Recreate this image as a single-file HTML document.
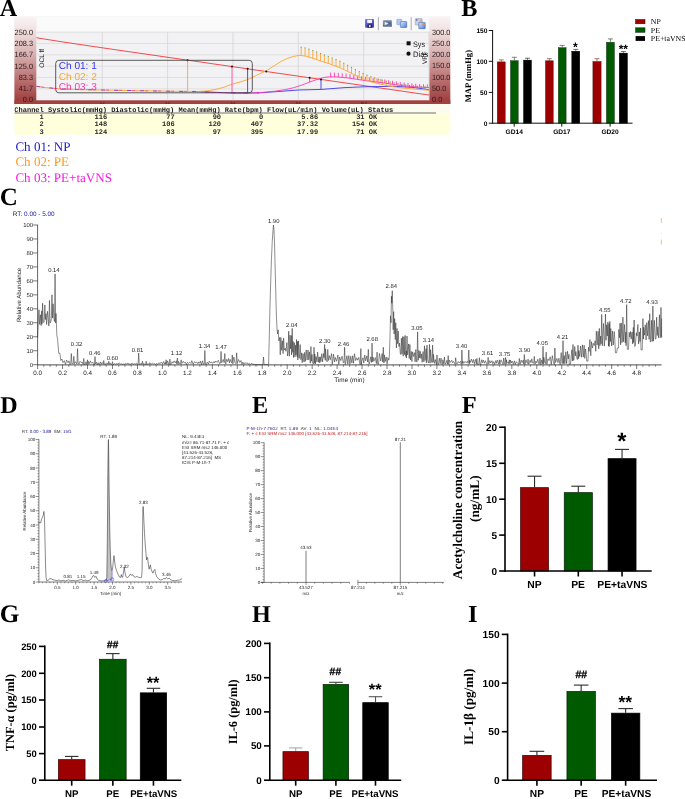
<!DOCTYPE html>
<html lang="en">
<head>
<meta charset="utf-8">
<title>Figure</title>
<style>
html,body{margin:0;padding:0;background:#fff;}
body{width:685px;height:799px;overflow:hidden;}
svg{display:block;}
text{font-family:"Liberation Sans","DejaVu Sans",sans-serif;text-rendering:geometricPrecision;}
.sb{font-family:"Liberation Sans","DejaVu Sans",sans-serif;font-weight:bold;}
.s{font-family:"Liberation Sans","DejaVu Sans",sans-serif;}
.sbi{font-family:"Liberation Sans","DejaVu Sans",sans-serif;font-weight:bold;font-style:italic;}
.rb{font-family:"Liberation Serif","DejaVu Serif",serif;font-weight:bold;}
.r{font-family:"Liberation Serif","DejaVu Serif",serif;}
.m{font-family:"Liberation Mono","DejaVu Sans Mono",monospace;font-weight:bold;}
</style>
</head>
<body>
<svg width="685" height="799" viewBox="0 0 685 799">
<rect x="0" y="0" width="685" height="799" fill="#ffffff"/>
<!-- panel letters -->
<text x="-0.2" y="15.9" font-size="24.2" class="rb">A</text>
<text x="461.3" y="15.9" font-size="24.3" class="rb">B</text>
<text x="-0.3" y="204.9" font-size="25" class="rb">C</text>
<text x="0.2" y="412.9" font-size="24.1" class="rb">D</text>
<text x="252.1" y="413" font-size="24.3" class="rb">E</text>
<text x="461.7" y="413" font-size="24.5" class="rb">F</text>
<text x="-0.3" y="622.3" font-size="25.2" class="rb">G</text>
<text x="252.1" y="621.9" font-size="24.2" class="rb">H</text>
<text x="468.1" y="621.9" font-size="24.5" class="rb">I</text>
<!-- panel G -->
<line x1="71.7" y1="759.3" x2="71.7" y2="756.4" stroke="#2c2c2c" stroke-width="1.1"/>
<line x1="64.95" y1="756.4" x2="78.45" y2="756.4" stroke="#2c2c2c" stroke-width="1.1"/>
<rect x="58.35" y="759.65" width="26.7" height="20.55" fill="#9c0000" stroke="#3a0000" stroke-width="0.7"/>
<line x1="71.7" y1="780.2" x2="71.7" y2="785.7" stroke="#000" stroke-width="1.6"/>
<line x1="112.85" y1="658.9" x2="112.85" y2="653.6" stroke="#2c2c2c" stroke-width="1.1"/>
<line x1="106.1" y1="653.6" x2="119.6" y2="653.6" stroke="#2c2c2c" stroke-width="1.1"/>
<rect x="99.55" y="659.25" width="26.6" height="120.95" fill="#005a00" stroke="#001e00" stroke-width="0.7"/>
<line x1="112.85" y1="780.2" x2="112.85" y2="785.7" stroke="#000" stroke-width="1.6"/>
<line x1="153.45" y1="692.5" x2="153.45" y2="688.3" stroke="#2c2c2c" stroke-width="1.1"/>
<line x1="146.7" y1="688.3" x2="160.2" y2="688.3" stroke="#2c2c2c" stroke-width="1.1"/>
<rect x="140.25" y="692.85" width="26.4" height="87.35" fill="#000000" stroke="#000000" stroke-width="0.7"/>
<line x1="153.45" y1="780.2" x2="153.45" y2="785.7" stroke="#000" stroke-width="1.6"/>
<line x1="44.8" y1="645.6" x2="44.8" y2="781" stroke="#000" stroke-width="1.6"/>
<line x1="44" y1="780.2" x2="181.3" y2="780.2" stroke="#000" stroke-width="1.6"/>
<line x1="39" y1="646.4" x2="44.8" y2="646.4" stroke="#000" stroke-width="1.6"/>
<text x="36.8" y="649.77" font-size="9.4" text-anchor="end" class="sb">250</text>
<line x1="39" y1="673.3" x2="44.8" y2="673.3" stroke="#000" stroke-width="1.6"/>
<text x="36.8" y="676.67" font-size="9.4" text-anchor="end" class="sb">200</text>
<line x1="39" y1="700" x2="44.8" y2="700" stroke="#000" stroke-width="1.6"/>
<text x="36.8" y="703.37" font-size="9.4" text-anchor="end" class="sb">150</text>
<line x1="39" y1="727" x2="44.8" y2="727" stroke="#000" stroke-width="1.6"/>
<text x="36.8" y="730.37" font-size="9.4" text-anchor="end" class="sb">100</text>
<line x1="39" y1="753.6" x2="44.8" y2="753.6" stroke="#000" stroke-width="1.6"/>
<text x="36.8" y="756.97" font-size="9.4" text-anchor="end" class="sb">50</text>
<line x1="39" y1="780.2" x2="44.8" y2="780.2" stroke="#000" stroke-width="1.6"/>
<text x="36.8" y="783.57" font-size="9.4" text-anchor="end" class="sb">0</text>
<text x="71.8" y="797" font-size="9.7" text-anchor="middle" class="sb">NP</text>
<text x="112.8" y="797" font-size="9.7" text-anchor="middle" class="sb">PE</text>
<text x="153.7" y="797" font-size="9.7" text-anchor="middle" class="sb">PE+taVNS</text>
<text x="112.4" y="647.5" font-size="10.3" text-anchor="middle" class="sbi" stroke="#000" stroke-width="0.25">##</text>
<text x="153" y="688.4" font-size="16.2" text-anchor="middle" class="sb">**</text>
<text x="13.8" y="712.6" font-size="12.4" text-anchor="middle" transform="rotate(-90 13.8 712.6)" class="rb">TNF-α (pg/ml)</text>
<!-- panel H -->
<line x1="295.7" y1="751.3" x2="295.7" y2="747.9" stroke="#a8a8a8" stroke-width="1.1"/>
<line x1="288.95" y1="747.9" x2="302.45" y2="747.9" stroke="#a8a8a8" stroke-width="1.1"/>
<rect x="282.95" y="751.65" width="25.5" height="28.55" fill="#9c0000" stroke="#3a0000" stroke-width="0.7"/>
<line x1="295.7" y1="780.2" x2="295.7" y2="785.7" stroke="#000" stroke-width="1.6"/>
<line x1="335.9" y1="684.1" x2="335.9" y2="682.3" stroke="#3a4a3a" stroke-width="1.1"/>
<line x1="329.15" y1="682.3" x2="342.65" y2="682.3" stroke="#3a4a3a" stroke-width="1.1"/>
<rect x="323.15" y="684.45" width="25.5" height="95.75" fill="#005a00" stroke="#001e00" stroke-width="0.7"/>
<line x1="335.9" y1="780.2" x2="335.9" y2="785.7" stroke="#000" stroke-width="1.6"/>
<line x1="375.5" y1="702.3" x2="375.5" y2="696.7" stroke="#555555" stroke-width="1.1"/>
<line x1="368.75" y1="696.7" x2="382.25" y2="696.7" stroke="#555555" stroke-width="1.1"/>
<rect x="362.75" y="702.65" width="25.5" height="77.55" fill="#000000" stroke="#000000" stroke-width="0.7"/>
<line x1="375.5" y1="780.2" x2="375.5" y2="785.7" stroke="#000" stroke-width="1.6"/>
<line x1="269.8" y1="642.6" x2="269.8" y2="781" stroke="#000" stroke-width="1.6"/>
<line x1="269" y1="780.2" x2="401.2" y2="780.2" stroke="#000" stroke-width="1.6"/>
<line x1="264" y1="643.4" x2="269.8" y2="643.4" stroke="#000" stroke-width="1.6"/>
<text x="261.8" y="646.91" font-size="9.8" text-anchor="end" class="sb">200</text>
<line x1="264" y1="677.7" x2="269.8" y2="677.7" stroke="#000" stroke-width="1.6"/>
<text x="261.8" y="681.21" font-size="9.8" text-anchor="end" class="sb">150</text>
<line x1="264" y1="711.9" x2="269.8" y2="711.9" stroke="#000" stroke-width="1.6"/>
<text x="261.8" y="715.41" font-size="9.8" text-anchor="end" class="sb">100</text>
<line x1="264" y1="745.9" x2="269.8" y2="745.9" stroke="#000" stroke-width="1.6"/>
<text x="261.8" y="749.41" font-size="9.8" text-anchor="end" class="sb">50</text>
<line x1="264" y1="780.2" x2="269.8" y2="780.2" stroke="#000" stroke-width="1.6"/>
<text x="261.8" y="783.71" font-size="9.8" text-anchor="end" class="sb">0</text>
<text x="295.8" y="797" font-size="9.7" text-anchor="middle" class="sb">NP</text>
<text x="335.7" y="797" font-size="9.7" text-anchor="middle" class="sb">PE</text>
<text x="375" y="797" font-size="9.7" text-anchor="middle" class="sb">PE+taVNS</text>
<text x="335.2" y="675.1" font-size="10.5" text-anchor="middle" class="sbi" stroke="#000" stroke-width="0.25">##</text>
<text x="375.2" y="694.5" font-size="16.4" text-anchor="middle" class="sb">**</text>
<text x="236.7" y="711.8" font-size="12.4" text-anchor="middle" transform="rotate(-90 236.7 711.8)" class="rb">IL-6 (pg/ml)</text>
<!-- panel I -->
<line x1="536.9" y1="755" x2="536.9" y2="751.3" stroke="#2c2c2c" stroke-width="1.1"/>
<line x1="529.6" y1="751.3" x2="544.2" y2="751.3" stroke="#2c2c2c" stroke-width="1.1"/>
<rect x="522.65" y="755.35" width="28.5" height="24.85" fill="#9c0000" stroke="#3a0000" stroke-width="0.7"/>
<line x1="536.9" y1="780.2" x2="536.9" y2="785.7" stroke="#000" stroke-width="1.6"/>
<line x1="581.15" y1="691.1" x2="581.15" y2="685.1" stroke="#2c2c2c" stroke-width="1.1"/>
<line x1="573.85" y1="685.1" x2="588.45" y2="685.1" stroke="#2c2c2c" stroke-width="1.1"/>
<rect x="566.95" y="691.45" width="28.4" height="88.75" fill="#005a00" stroke="#001e00" stroke-width="0.7"/>
<line x1="581.15" y1="780.2" x2="581.15" y2="785.7" stroke="#000" stroke-width="1.6"/>
<line x1="625.65" y1="712.8" x2="625.65" y2="708.6" stroke="#2c2c2c" stroke-width="1.1"/>
<line x1="618.35" y1="708.6" x2="632.95" y2="708.6" stroke="#2c2c2c" stroke-width="1.1"/>
<rect x="611.45" y="713.15" width="28.4" height="67.05" fill="#000000" stroke="#000000" stroke-width="0.7"/>
<line x1="625.65" y1="780.2" x2="625.65" y2="785.7" stroke="#000" stroke-width="1.6"/>
<line x1="507.6" y1="633.6" x2="507.6" y2="781" stroke="#000" stroke-width="1.6"/>
<line x1="506.8" y1="780.2" x2="657" y2="780.2" stroke="#000" stroke-width="1.6"/>
<line x1="501.8" y1="634.4" x2="507.6" y2="634.4" stroke="#000" stroke-width="1.6"/>
<text x="499.6" y="638.05" font-size="10.2" text-anchor="end" class="sb">150</text>
<line x1="501.8" y1="683.1" x2="507.6" y2="683.1" stroke="#000" stroke-width="1.6"/>
<text x="499.6" y="686.75" font-size="10.2" text-anchor="end" class="sb">100</text>
<line x1="501.8" y1="731.7" x2="507.6" y2="731.7" stroke="#000" stroke-width="1.6"/>
<text x="499.6" y="735.35" font-size="10.2" text-anchor="end" class="sb">50</text>
<line x1="501.8" y1="780.2" x2="507.6" y2="780.2" stroke="#000" stroke-width="1.6"/>
<text x="499.6" y="783.85" font-size="10.2" text-anchor="end" class="sb">0</text>
<text x="536.9" y="797.2" font-size="10.2" text-anchor="middle" class="sb">NP</text>
<text x="581" y="797.2" font-size="10.2" text-anchor="middle" class="sb">PE</text>
<text x="626.5" y="797.2" font-size="10.2" text-anchor="middle" class="sb">PE+taVNS</text>
<text x="581.1" y="678.4" font-size="10.7" text-anchor="middle" class="sbi" stroke="#000" stroke-width="0.25">##</text>
<text x="625.2" y="708.4" font-size="17.4" text-anchor="middle" class="sb">**</text>
<text x="472.9" y="706.8" font-size="13.2" text-anchor="middle" transform="rotate(-90 472.9 706.8)" class="rb">IL-1β (pg/ml)</text>
<!-- panel F -->
<line x1="534.55" y1="487.3" x2="534.55" y2="476.2" stroke="#2c2c2c" stroke-width="1.1"/>
<line x1="527.55" y1="476.2" x2="541.55" y2="476.2" stroke="#2c2c2c" stroke-width="1.1"/>
<rect x="520.55" y="487.65" width="28" height="83.35" fill="#9c0000" stroke="#3a0000" stroke-width="0.7"/>
<line x1="534.55" y1="571" x2="534.55" y2="576.5" stroke="#000" stroke-width="1.6"/>
<line x1="578.3" y1="492.3" x2="578.3" y2="486.2" stroke="#2c2c2c" stroke-width="1.1"/>
<line x1="571.3" y1="486.2" x2="585.3" y2="486.2" stroke="#2c2c2c" stroke-width="1.1"/>
<rect x="564.25" y="492.65" width="28.1" height="78.35" fill="#005a00" stroke="#001e00" stroke-width="0.7"/>
<line x1="578.3" y1="571" x2="578.3" y2="576.5" stroke="#000" stroke-width="1.6"/>
<line x1="622.05" y1="458.3" x2="622.05" y2="449.4" stroke="#2c2c2c" stroke-width="1.1"/>
<line x1="615.05" y1="449.4" x2="629.05" y2="449.4" stroke="#2c2c2c" stroke-width="1.1"/>
<rect x="608.05" y="458.65" width="28" height="112.35" fill="#000000" stroke="#000000" stroke-width="0.7"/>
<line x1="622.05" y1="571" x2="622.05" y2="576.5" stroke="#000" stroke-width="1.6"/>
<line x1="505" y1="426.4" x2="505" y2="571.8" stroke="#000" stroke-width="1.6"/>
<line x1="504.2" y1="571" x2="651.7" y2="571" stroke="#000" stroke-width="1.6"/>
<line x1="499.2" y1="427.2" x2="505" y2="427.2" stroke="#000" stroke-width="1.6"/>
<text x="497" y="430.78" font-size="10" text-anchor="end" class="sb">20</text>
<line x1="499.2" y1="463.3" x2="505" y2="463.3" stroke="#000" stroke-width="1.6"/>
<text x="497" y="466.88" font-size="10" text-anchor="end" class="sb">15</text>
<line x1="499.2" y1="499.2" x2="505" y2="499.2" stroke="#000" stroke-width="1.6"/>
<text x="497" y="502.78" font-size="10" text-anchor="end" class="sb">10</text>
<line x1="499.2" y1="535.1" x2="505" y2="535.1" stroke="#000" stroke-width="1.6"/>
<text x="497" y="538.68" font-size="10" text-anchor="end" class="sb">5</text>
<line x1="499.2" y1="571" x2="505" y2="571" stroke="#000" stroke-width="1.6"/>
<text x="497" y="574.58" font-size="10" text-anchor="end" class="sb">0</text>
<text x="534.4" y="588.3" font-size="10.3" text-anchor="middle" class="sb">NP</text>
<text x="578" y="588.3" font-size="10.3" text-anchor="middle" class="sb">PE</text>
<text x="622.4" y="588.3" font-size="10.3" text-anchor="middle" class="sb">PE+taVNS</text>
<text x="621.9" y="449.3" font-size="23.5" text-anchor="middle" class="sb">*</text>
<text x="461.6" y="500" font-size="13.3" text-anchor="middle" transform="rotate(-90 461.6 500)" class="rb">Acetylcholine concentration</text>
<text x="479.2" y="498.7" font-size="13.3" text-anchor="middle" transform="rotate(-90 479.2 498.7)" class="rb">(ng/mL)</text>
<!-- panel B -->
<line x1="501.25" y1="61.7" x2="501.25" y2="59.9" stroke="#7a4040" stroke-width="0.7"/>
<line x1="498.75" y1="59.9" x2="503.75" y2="59.9" stroke="#7a4040" stroke-width="0.7"/>
<rect x="497.3" y="61.9" width="7.9" height="61.3" fill="#9c0000" stroke="#3a0000" stroke-width="0.4"/>
<line x1="514.35" y1="60.5" x2="514.35" y2="57.3" stroke="#3a5a3a" stroke-width="0.7"/>
<line x1="511.85" y1="57.3" x2="516.85" y2="57.3" stroke="#3a5a3a" stroke-width="0.7"/>
<rect x="510.5" y="60.7" width="7.7" height="62.5" fill="#005a00" stroke="#001e00" stroke-width="0.4"/>
<line x1="527.5" y1="59.9" x2="527.5" y2="58.2" stroke="#3a3a3a" stroke-width="0.7"/>
<line x1="525" y1="58.2" x2="530" y2="58.2" stroke="#3a3a3a" stroke-width="0.7"/>
<rect x="523.5" y="60.1" width="8" height="63.1" fill="#000000" stroke="#000000" stroke-width="0.4"/>
<line x1="549.35" y1="60.6" x2="549.35" y2="58.7" stroke="#7a4040" stroke-width="0.7"/>
<line x1="546.85" y1="58.7" x2="551.85" y2="58.7" stroke="#7a4040" stroke-width="0.7"/>
<rect x="545.5" y="60.8" width="7.7" height="62.4" fill="#9c0000" stroke="#3a0000" stroke-width="0.4"/>
<line x1="562.2" y1="47.5" x2="562.2" y2="45.4" stroke="#3a5a3a" stroke-width="0.7"/>
<line x1="559.7" y1="45.4" x2="564.7" y2="45.4" stroke="#3a5a3a" stroke-width="0.7"/>
<rect x="558.3" y="47.7" width="7.8" height="75.5" fill="#005a00" stroke="#001e00" stroke-width="0.4"/>
<line x1="575.8" y1="51" x2="575.8" y2="49.4" stroke="#3a3a3a" stroke-width="0.7"/>
<line x1="573.3" y1="49.4" x2="578.3" y2="49.4" stroke="#3a3a3a" stroke-width="0.7"/>
<rect x="571.8" y="51.2" width="8" height="72" fill="#000000" stroke="#000000" stroke-width="0.4"/>
<line x1="597" y1="61.3" x2="597" y2="58.7" stroke="#7a4040" stroke-width="0.7"/>
<line x1="594.5" y1="58.7" x2="599.5" y2="58.7" stroke="#7a4040" stroke-width="0.7"/>
<rect x="592.9" y="61.5" width="8.2" height="61.7" fill="#9c0000" stroke="#3a0000" stroke-width="0.4"/>
<line x1="610.4" y1="42.1" x2="610.4" y2="38.9" stroke="#3a5a3a" stroke-width="0.7"/>
<line x1="607.9" y1="38.9" x2="612.9" y2="38.9" stroke="#3a5a3a" stroke-width="0.7"/>
<rect x="606.4" y="42.3" width="8" height="80.9" fill="#005a00" stroke="#001e00" stroke-width="0.4"/>
<line x1="623.35" y1="52.9" x2="623.35" y2="51.5" stroke="#3a3a3a" stroke-width="0.7"/>
<line x1="620.85" y1="51.5" x2="625.85" y2="51.5" stroke="#3a3a3a" stroke-width="0.7"/>
<rect x="619.2" y="53.1" width="8.3" height="70.1" fill="#000000" stroke="#000000" stroke-width="0.4"/>
<line x1="492.6" y1="30" x2="492.6" y2="123.7" stroke="#111" stroke-width="1"/>
<line x1="492.1" y1="123.2" x2="632.5" y2="123.2" stroke="#111" stroke-width="1"/>
<line x1="488.8" y1="30.5" x2="492.6" y2="30.5" stroke="#111" stroke-width="1"/>
<text x="487.4" y="32.9" font-size="6.6" text-anchor="end" class="sb">150</text>
<line x1="488.8" y1="61.3" x2="492.6" y2="61.3" stroke="#111" stroke-width="1"/>
<text x="487.4" y="63.7" font-size="6.6" text-anchor="end" class="sb">100</text>
<line x1="488.8" y1="92.4" x2="492.6" y2="92.4" stroke="#111" stroke-width="1"/>
<text x="487.4" y="94.8" font-size="6.6" text-anchor="end" class="sb">50</text>
<line x1="488.8" y1="123.2" x2="492.6" y2="123.2" stroke="#111" stroke-width="1"/>
<text x="487.4" y="125.6" font-size="6.6" text-anchor="end" class="sb">0</text>
<line x1="514.2" y1="123.2" x2="514.2" y2="126.7" stroke="#111" stroke-width="1"/>
<text x="514.2" y="134.4" font-size="6.6" text-anchor="middle" class="sb">GD14</text>
<line x1="561.8" y1="123.2" x2="561.8" y2="126.7" stroke="#111" stroke-width="1"/>
<text x="561.8" y="134.4" font-size="6.6" text-anchor="middle" class="sb">GD17</text>
<line x1="610.1" y1="123.2" x2="610.1" y2="126.7" stroke="#111" stroke-width="1"/>
<text x="610.1" y="134.4" font-size="6.6" text-anchor="middle" class="sb">GD20</text>
<text x="575.4" y="51.2" font-size="12.2" text-anchor="middle" class="sb">*</text>
<text x="623.3" y="53.2" font-size="12" text-anchor="middle" class="sb">**</text>
<text x="471" y="76.1" font-size="8.6" text-anchor="middle" transform="rotate(-90 471 76.1)" class="rb">MAP (mmHg)</text>
<rect x="635.6" y="19.5" width="9.4" height="4.3" fill="#9c0000" stroke="#3a0000" stroke-width="0.5"/>
<rect x="635.6" y="27.8" width="9.4" height="4.5" fill="#005a00" stroke="#001e00" stroke-width="0.5"/>
<rect x="635.6" y="36.1" width="9.4" height="4.8" fill="#000000"/>
<text x="650.8" y="23.8" font-size="7.8" class="r">NP</text>
<text x="650.8" y="32.5" font-size="7.8" class="r">PE</text>
<text x="650.8" y="41.1" font-size="7.8" class="r">PE+taVNS</text>
<!-- panel A -->
<defs>
<linearGradient id="gl" x1="0" y1="0" x2="0" y2="1"><stop offset="0" stop-color="#f9f4f4"/><stop offset="0.15" stop-color="#f1e2e2"/><stop offset="0.42" stop-color="#d9b2b2"/><stop offset="0.75" stop-color="#b76a6a"/><stop offset="1" stop-color="#9b3838"/></linearGradient>
<linearGradient id="glh" x1="0" y1="0" x2="1" y2="0"><stop offset="0" stop-color="#ffffff" stop-opacity="0"/><stop offset="1" stop-color="#ffffff" stop-opacity="0.28"/></linearGradient>
<linearGradient id="gr" x1="0" y1="0" x2="0" y2="1"><stop offset="0" stop-color="#f9f4f4"/><stop offset="0.15" stop-color="#f1e2e2"/><stop offset="0.42" stop-color="#d9b2b2"/><stop offset="0.75" stop-color="#b76a6a"/><stop offset="1" stop-color="#9b3838"/></linearGradient>
<clipPath id="ca"><rect x="14.4" y="16.6" width="435.9" height="118.0"/></clipPath>
<clipPath id="cp"><rect x="36.3" y="16.6" width="392.9" height="84"/></clipPath>
</defs>
<rect x="14.4" y="16.6" width="435.9" height="87.4" fill="#f1f1f3"/>
<rect x="36.3" y="16.6" width="392.9" height="83.7" fill="#f2f2f4"/>
<rect x="36.3" y="16.6" width="392.9" height="14.9" fill="#fafafa"/>
<rect x="14.4" y="16.6" width="21.9" height="87.4" fill="url(#gl)"/>
<rect x="429.2" y="16.6" width="21.1" height="87.4" fill="url(#gr)"/>
<rect x="14.4" y="100.3" width="435.9" height="3.7" fill="#a44040"/>
<line x1="36.3" y1="32.2" x2="429.2" y2="32.2" stroke="#dadadc" stroke-width="0.8"/>
<line x1="36.3" y1="43.53" x2="429.2" y2="43.53" stroke="#dadadc" stroke-width="0.8"/>
<line x1="36.3" y1="54.86" x2="429.2" y2="54.86" stroke="#dadadc" stroke-width="0.8"/>
<line x1="36.3" y1="66.19" x2="429.2" y2="66.19" stroke="#dadadc" stroke-width="0.8"/>
<line x1="36.3" y1="77.52" x2="429.2" y2="77.52" stroke="#dadadc" stroke-width="0.8"/>
<line x1="36.3" y1="88.85" x2="429.2" y2="88.85" stroke="#dadadc" stroke-width="0.8"/>
<line x1="102.25" y1="32.2" x2="102.25" y2="100.3" stroke="#d4d4d6" stroke-width="0.8"/>
<line x1="167.6" y1="32.2" x2="167.6" y2="100.3" stroke="#d4d4d6" stroke-width="0.8"/>
<line x1="232.95" y1="32.2" x2="232.95" y2="100.3" stroke="#d4d4d6" stroke-width="0.8"/>
<line x1="298.3" y1="32.2" x2="298.3" y2="100.3" stroke="#d4d4d6" stroke-width="0.8"/>
<line x1="363.65" y1="32.2" x2="363.65" y2="100.3" stroke="#d4d4d6" stroke-width="0.8"/>
<line x1="429" y1="32.2" x2="429" y2="100.3" stroke="#d4d4d6" stroke-width="0.8"/>
<rect x="14.4" y="113.4" width="435.9" height="21.2" fill="#ffffdc"/>
<rect x="14.4" y="104" width="435.9" height="9.2" fill="#fbfbf0"/>
<g clip-path="url(#ca)">
<text x="14.3" y="111.7" font-size="7.03" class="m" fill="#1a1a1a" xml:space="preserve">Channel Systolic(mmHg) Diastolic(mmHg) Mean(mmHg) Rate(bpm) Flow(uL/min) Volume(uL) Status</text>
<line x1="14.4" y1="113" x2="436" y2="113" stroke="#333" stroke-width="0.7"/>
<text x="43.84" y="118.8" font-size="7.03" text-anchor="end" fill="#2a2a2a" class="m">1</text>
<text x="107.14" y="118.8" font-size="7.03" text-anchor="end" fill="#2a2a2a" class="m">116</text>
<text x="174.66" y="118.8" font-size="7.03" text-anchor="end" fill="#2a2a2a" class="m">77</text>
<text x="221.08" y="118.8" font-size="7.03" text-anchor="end" fill="#2a2a2a" class="m">90</text>
<text x="263.28" y="118.8" font-size="7.03" text-anchor="end" fill="#2a2a2a" class="m">0</text>
<text x="318.14" y="118.8" font-size="7.03" text-anchor="end" fill="#2a2a2a" class="m">5.86</text>
<text x="364.56" y="118.8" font-size="7.03" text-anchor="end" fill="#2a2a2a" class="m">31</text>
<text x="368.78" y="118.8" font-size="7.03" fill="#2a2a2a" class="m">OK</text>
<text x="43.84" y="126.45" font-size="7.03" text-anchor="end" fill="#2a2a2a" class="m">2</text>
<text x="107.14" y="126.45" font-size="7.03" text-anchor="end" fill="#2a2a2a" class="m">148</text>
<text x="174.66" y="126.45" font-size="7.03" text-anchor="end" fill="#2a2a2a" class="m">106</text>
<text x="221.08" y="126.45" font-size="7.03" text-anchor="end" fill="#2a2a2a" class="m">120</text>
<text x="263.28" y="126.45" font-size="7.03" text-anchor="end" fill="#2a2a2a" class="m">407</text>
<text x="318.14" y="126.45" font-size="7.03" text-anchor="end" fill="#2a2a2a" class="m">37.32</text>
<text x="364.56" y="126.45" font-size="7.03" text-anchor="end" fill="#2a2a2a" class="m">154</text>
<text x="368.78" y="126.45" font-size="7.03" fill="#2a2a2a" class="m">OK</text>
<text x="43.84" y="134.1" font-size="7.03" text-anchor="end" fill="#2a2a2a" class="m">3</text>
<text x="107.14" y="134.1" font-size="7.03" text-anchor="end" fill="#2a2a2a" class="m">124</text>
<text x="174.66" y="134.1" font-size="7.03" text-anchor="end" fill="#2a2a2a" class="m">83</text>
<text x="221.08" y="134.1" font-size="7.03" text-anchor="end" fill="#2a2a2a" class="m">97</text>
<text x="263.28" y="134.1" font-size="7.03" text-anchor="end" fill="#2a2a2a" class="m">395</text>
<text x="318.14" y="134.1" font-size="7.03" text-anchor="end" fill="#2a2a2a" class="m">17.99</text>
<text x="364.56" y="134.1" font-size="7.03" text-anchor="end" fill="#2a2a2a" class="m">71</text>
<text x="368.78" y="134.1" font-size="7.03" fill="#2a2a2a" class="m">OK</text>
</g>
<text x="33" y="34.95" font-size="7.7" text-anchor="end" fill="#2a1a1a" class="s" textLength="18.4" lengthAdjust="spacingAndGlyphs">250.0</text>
<text x="33" y="46.2" font-size="7.7" text-anchor="end" fill="#2a1a1a" class="s" textLength="18.4" lengthAdjust="spacingAndGlyphs">208.3</text>
<text x="33" y="57.45" font-size="7.7" text-anchor="end" fill="#2a1a1a" class="s" textLength="18.4" lengthAdjust="spacingAndGlyphs">166.7</text>
<text x="33" y="68.7" font-size="7.7" text-anchor="end" fill="#2a1a1a" class="s" textLength="18.4" lengthAdjust="spacingAndGlyphs">125.0</text>
<text x="33" y="79.95" font-size="7.7" text-anchor="end" fill="#2a1a1a" class="s" textLength="14.31" lengthAdjust="spacingAndGlyphs">83.3</text>
<text x="33" y="91.2" font-size="7.7" text-anchor="end" fill="#2a1a1a" class="s" textLength="14.31" lengthAdjust="spacingAndGlyphs">41.7</text>
<text x="33" y="102.45" font-size="7.7" text-anchor="end" fill="#2a1a1a" class="s" textLength="10.22" lengthAdjust="spacingAndGlyphs">0.0</text>
<g clip-path="url(#ca)">
<text x="432" y="34.6" font-size="7.7" fill="#2a1a1a" class="s" textLength="18.4" lengthAdjust="spacingAndGlyphs">300.0</text>
<text x="432" y="45.85" font-size="7.7" fill="#2a1a1a" class="s" textLength="18.4" lengthAdjust="spacingAndGlyphs">250.0</text>
<text x="432" y="57.1" font-size="7.7" fill="#2a1a1a" class="s" textLength="18.4" lengthAdjust="spacingAndGlyphs">200.0</text>
<text x="432" y="68.35" font-size="7.7" fill="#2a1a1a" class="s" textLength="18.4" lengthAdjust="spacingAndGlyphs">150.0</text>
<text x="432" y="79.6" font-size="7.7" fill="#2a1a1a" class="s" textLength="18.4" lengthAdjust="spacingAndGlyphs">100.0</text>
<text x="432" y="90.85" font-size="7.7" fill="#2a1a1a" class="s" textLength="14.31" lengthAdjust="spacingAndGlyphs">50.0</text>
<text x="432" y="102.1" font-size="7.7" fill="#2a1a1a" class="s" textLength="10.22" lengthAdjust="spacingAndGlyphs">0.0</text>
</g>
<text x="43.9" y="58.3" font-size="6.6" text-anchor="middle" fill="#222" transform="rotate(-90 43.9 58.3)" class="s">OCL ff</text>
<text x="426.8" y="57.8" font-size="6.6" text-anchor="middle" fill="#222" transform="rotate(-90 426.8 57.8)" class="s">VFF</text>
<text x="102.25" y="103.6" font-size="3.2" text-anchor="middle" fill="#3a1010" class="s">2.2</text>
<text x="167.6" y="103.6" font-size="3.2" text-anchor="middle" fill="#3a1010" class="s">4.2</text>
<text x="232.95" y="103.6" font-size="3.2" text-anchor="middle" fill="#3a1010" class="s">6.2</text>
<text x="298.3" y="103.6" font-size="3.2" text-anchor="middle" fill="#3a1010" class="s">8.2</text>
<text x="363.65" y="103.6" font-size="3.2" text-anchor="middle" fill="#3a1010" class="s">10.2</text>
<g clip-path="url(#cp)">
<line x1="301.2" y1="55.5" x2="301.2" y2="47.3" stroke="#ffa530" stroke-width="0.9"/>
<rect x="300.65" y="46.7" width="1.1" height="0.9" fill="#5a9a40"/>
<line x1="305.07" y1="56.06" x2="305.07" y2="48.05" stroke="#ffa530" stroke-width="0.9"/>
<rect x="304.52" y="47.45" width="1.1" height="0.9" fill="#5a9a40"/>
<line x1="308.94" y1="57.08" x2="308.94" y2="49.25" stroke="#ffa530" stroke-width="0.9"/>
<rect x="308.39" y="48.65" width="1.1" height="0.9" fill="#5a9a40"/>
<line x1="312.81" y1="58.27" x2="312.81" y2="50.62" stroke="#ffa530" stroke-width="0.9"/>
<rect x="312.26" y="50.02" width="1.1" height="0.9" fill="#5a9a40"/>
<line x1="316.68" y1="59.58" x2="316.68" y2="52.11" stroke="#ffa530" stroke-width="0.9"/>
<rect x="316.13" y="51.51" width="1.1" height="0.9" fill="#5a9a40"/>
<line x1="320.55" y1="60.88" x2="320.55" y2="53.6" stroke="#ffa530" stroke-width="0.9"/>
<rect x="320" y="53" width="1.1" height="0.9" fill="#5a9a40"/>
<line x1="324.42" y1="62.16" x2="324.42" y2="55.06" stroke="#ffa530" stroke-width="0.9"/>
<rect x="323.87" y="54.46" width="1.1" height="0.9" fill="#5a9a40"/>
<line x1="328.29" y1="63.44" x2="328.29" y2="56.52" stroke="#ffa530" stroke-width="0.9"/>
<rect x="327.74" y="55.92" width="1.1" height="0.9" fill="#5a9a40"/>
<line x1="332.16" y1="64.81" x2="332.16" y2="58.07" stroke="#ffa530" stroke-width="0.9"/>
<rect x="331.61" y="57.47" width="1.1" height="0.9" fill="#5a9a40"/>
<line x1="336.03" y1="66.26" x2="336.03" y2="59.71" stroke="#ffa530" stroke-width="0.9"/>
<rect x="335.48" y="59.11" width="1.1" height="0.9" fill="#5a9a40"/>
<line x1="339.9" y1="67.71" x2="339.9" y2="61.34" stroke="#ffa530" stroke-width="0.9"/>
<rect x="339.35" y="60.74" width="1.1" height="0.9" fill="#5a9a40"/>
<line x1="343.77" y1="69.52" x2="343.77" y2="63.33" stroke="#ffa530" stroke-width="0.9"/>
<rect x="343.22" y="62.73" width="1.1" height="0.9" fill="#5a9a40"/>
<line x1="347.64" y1="71.38" x2="347.64" y2="65.38" stroke="#ffa530" stroke-width="0.9"/>
<rect x="347.09" y="64.78" width="1.1" height="0.9" fill="#5a9a40"/>
<line x1="351.51" y1="73.26" x2="351.51" y2="67.44" stroke="#ffa530" stroke-width="0.9"/>
<rect x="350.96" y="66.84" width="1.1" height="0.9" fill="#5a9a40"/>
<line x1="355.38" y1="75.25" x2="355.38" y2="69.61" stroke="#ffa530" stroke-width="0.9"/>
<rect x="354.83" y="69.01" width="1.1" height="0.9" fill="#5a9a40"/>
<line x1="359.25" y1="77.24" x2="359.25" y2="71.79" stroke="#ffa530" stroke-width="0.9"/>
<rect x="358.7" y="71.19" width="1.1" height="0.9" fill="#5a9a40"/>
<line x1="363.12" y1="78.98" x2="363.12" y2="73.71" stroke="#ffa530" stroke-width="0.9"/>
<rect x="362.57" y="73.11" width="1.1" height="0.9" fill="#5a9a40"/>
<line x1="366.99" y1="80.36" x2="366.99" y2="75.27" stroke="#ffa530" stroke-width="0.9"/>
<rect x="366.44" y="74.67" width="1.1" height="0.9" fill="#5a9a40"/>
<line x1="370.86" y1="81.75" x2="370.86" y2="76.84" stroke="#ffa530" stroke-width="0.9"/>
<rect x="370.31" y="76.24" width="1.1" height="0.9" fill="#5a9a40"/>
<line x1="374.73" y1="82.79" x2="374.73" y2="78.07" stroke="#ffa530" stroke-width="0.9"/>
<rect x="374.18" y="77.47" width="1.1" height="0.9" fill="#5a9a40"/>
<line x1="378.6" y1="83.83" x2="378.6" y2="79.29" stroke="#ffa530" stroke-width="0.9"/>
<rect x="378.05" y="78.69" width="1.1" height="0.9" fill="#5a9a40"/>
<line x1="382.47" y1="84.69" x2="382.47" y2="80.34" stroke="#ffa530" stroke-width="0.9"/>
<rect x="381.92" y="79.74" width="1.1" height="0.9" fill="#5a9a40"/>
<line x1="386.34" y1="85.47" x2="386.34" y2="81.29" stroke="#ffa530" stroke-width="0.9"/>
<rect x="385.79" y="80.69" width="1.1" height="0.9" fill="#5a9a40"/>
<line x1="390.21" y1="86.23" x2="390.21" y2="82.24" stroke="#ffa530" stroke-width="0.9"/>
<rect x="389.66" y="81.64" width="1.1" height="0.9" fill="#5a9a40"/>
<line x1="394.08" y1="86.81" x2="394.08" y2="83" stroke="#ffa530" stroke-width="0.9"/>
<rect x="393.53" y="82.4" width="1.1" height="0.9" fill="#5a9a40"/>
<line x1="397.95" y1="87.39" x2="397.95" y2="83.77" stroke="#ffa530" stroke-width="0.9"/>
<rect x="397.4" y="83.17" width="1.1" height="0.9" fill="#5a9a40"/>
<line x1="401.82" y1="87.88" x2="401.82" y2="84.44" stroke="#ffa530" stroke-width="0.9"/>
<rect x="401.27" y="83.84" width="1.1" height="0.9" fill="#5a9a40"/>
<line x1="405.69" y1="88.27" x2="405.69" y2="85.01" stroke="#ffa530" stroke-width="0.9"/>
<rect x="405.14" y="84.41" width="1.1" height="0.9" fill="#5a9a40"/>
<line x1="409.56" y1="88.66" x2="409.56" y2="85.58" stroke="#ffa530" stroke-width="0.9"/>
<rect x="409.01" y="84.98" width="1.1" height="0.9" fill="#5a9a40"/>
<line x1="413.43" y1="89.04" x2="413.43" y2="86.04" stroke="#ffa530" stroke-width="0.9"/>
<rect x="412.88" y="85.44" width="1.1" height="0.9" fill="#5a9a40"/>
<line x1="417.3" y1="89.36" x2="417.3" y2="86.36" stroke="#ffa530" stroke-width="0.9"/>
<rect x="416.75" y="85.76" width="1.1" height="0.9" fill="#5a9a40"/>
<line x1="421.17" y1="89.63" x2="421.17" y2="86.63" stroke="#ffa530" stroke-width="0.9"/>
<rect x="420.62" y="86.03" width="1.1" height="0.9" fill="#5a9a40"/>
<line x1="425.04" y1="89.91" x2="425.04" y2="86.91" stroke="#ffa530" stroke-width="0.9"/>
<rect x="424.49" y="86.31" width="1.1" height="0.9" fill="#5a9a40"/>
<line x1="330.6" y1="76.81" x2="330.6" y2="72.52" stroke="#ff3ab0" stroke-width="0.9"/>
<line x1="334.47" y1="76.87" x2="334.47" y2="72.63" stroke="#ff3ab0" stroke-width="0.9"/>
<line x1="338.34" y1="77.1" x2="338.34" y2="72.91" stroke="#ff3ab0" stroke-width="0.9"/>
<line x1="342.21" y1="77.44" x2="342.21" y2="73.3" stroke="#ff3ab0" stroke-width="0.9"/>
<line x1="346.08" y1="77.78" x2="346.08" y2="73.69" stroke="#ff3ab0" stroke-width="0.9"/>
<line x1="349.95" y1="78.27" x2="349.95" y2="74.24" stroke="#ff3ab0" stroke-width="0.9"/>
<line x1="353.82" y1="78.86" x2="353.82" y2="74.87" stroke="#ff3ab0" stroke-width="0.9"/>
<line x1="357.69" y1="79.44" x2="357.69" y2="75.51" stroke="#ff3ab0" stroke-width="0.9"/>
<line x1="361.56" y1="80.03" x2="361.56" y2="76.15" stroke="#ff3ab0" stroke-width="0.9"/>
<line x1="365.43" y1="80.61" x2="365.43" y2="76.79" stroke="#ff3ab0" stroke-width="0.9"/>
<line x1="369.3" y1="81.12" x2="369.3" y2="77.35" stroke="#ff3ab0" stroke-width="0.9"/>
<line x1="373.17" y1="81.62" x2="373.17" y2="77.89" stroke="#ff3ab0" stroke-width="0.9"/>
<line x1="377.04" y1="82.11" x2="377.04" y2="78.44" stroke="#ff3ab0" stroke-width="0.9"/>
<line x1="380.91" y1="82.6" x2="380.91" y2="78.98" stroke="#ff3ab0" stroke-width="0.9"/>
<line x1="384.78" y1="83.1" x2="384.78" y2="79.53" stroke="#ff3ab0" stroke-width="0.9"/>
<line x1="388.65" y1="83.68" x2="388.65" y2="80.16" stroke="#ff3ab0" stroke-width="0.9"/>
<line x1="392.52" y1="84.27" x2="392.52" y2="80.8" stroke="#ff3ab0" stroke-width="0.9"/>
<line x1="396.39" y1="84.85" x2="396.39" y2="81.44" stroke="#ff3ab0" stroke-width="0.9"/>
<line x1="400.26" y1="85.43" x2="400.26" y2="82.06" stroke="#ff3ab0" stroke-width="0.9"/>
<line x1="404.13" y1="85.81" x2="404.13" y2="82.5" stroke="#ff3ab0" stroke-width="0.9"/>
<line x1="408" y1="86.2" x2="408" y2="82.94" stroke="#ff3ab0" stroke-width="0.9"/>
<line x1="411.87" y1="86.59" x2="411.87" y2="83.38" stroke="#ff3ab0" stroke-width="0.9"/>
<line x1="415.74" y1="86.94" x2="415.74" y2="83.78" stroke="#ff3ab0" stroke-width="0.9"/>
<line x1="419.61" y1="87.13" x2="419.61" y2="84.02" stroke="#ff3ab0" stroke-width="0.9"/>
<line x1="423.48" y1="87.32" x2="423.48" y2="84.22" stroke="#ff3ab0" stroke-width="0.9"/>
<line x1="427.35" y1="87.51" x2="427.35" y2="84.41" stroke="#ff3ab0" stroke-width="0.9"/>
<polyline points="36,37.65 42,38.65 48,39.61 54,40.56 60,41.49 66,42.41 72,43.31 78,44.21 84,45.1 90,45.99 96,46.87 102,47.75 108,48.63 114,49.5 120,50.37 126,51.25 132,52.12 138,52.99 144,53.85 150,54.72 156,55.59 162,56.46 168,57.33 174,58.2 180,59.06 186,59.93 192,60.8 198,61.66 204,62.53 210,63.4 216,64.27 222,65.13 228,66 234,66.87 240,67.73 246,68.6 252,69.47 258,70.34 264,71.2 270,72.07 276,72.94 282,73.8 288,74.67 294,75.54 300,76.4 306,77.27 312,78.14 318,79.01 324,79.87 330,80.74 336,81.61 342,82.47 348,83.34 354,84.21 360,85.07 366,85.94 372,86.81 378,87.68 384,88.54 390,89.41 396,90.28 402,91.14 408,92.01 414,92.88 420,93.74 426,94.61 432,95.48" fill="none" stroke="#f03838" stroke-width="0.9" stroke-linejoin="round"/>
<polyline points="198,91.5 210,92.2 240,93.1 258.7,92.9 280,91.4 298.4,90 321.8,89.4 345,87.6 364,86.8 393,86.3 410,87.2 417,87.9 429.2,89.8" fill="none" stroke="#3838f0" stroke-width="0.9" stroke-linejoin="round"/>
<polyline points="198,91.5 210,92.2 235,93 254,92.9 265,92.2 275,91.2 285,89.7 293.7,87.7 302,85 310,81.9 316,79.8 320.6,78.4 325,77.3 330,76.8 336,76.9 347.5,77.9 366,80.7 384.8,83.1 400,85.4 415,86.9 429.2,87.6" fill="none" stroke="#ff3ab0" stroke-width="0.9" stroke-linejoin="round"/>
<polyline points="36.3,86.3 45,87.5 59,88.8 80,89.6 110,90.2 150,90.9 175,91.3 198,91.5 208,90.8 216.8,89.2 224,87.2 230.8,84.6 240,82 247.6,79.6 254,76.6 260,73.6 266.2,70.9 272,67.2 277,64 282,60.9 288,58.2 293.7,56.4 298,55.6 301.2,55.5 306,56.2 312,58 320.6,60.9 330,64 340.4,67.9 351,73 361.5,78.4 371,81.8 380,84.2 390,86.2 400,87.7 415,89.2 429.2,90.2" fill="none" stroke="#ffa530" stroke-width="0.9" stroke-linejoin="round"/>
<polyline points="36.3,86.3 45,87.5 59,88.8 80,89.6 110,90.2 150,90.9 175,91.3 198,91.5 210,92.2 240,93.1 258.7,92.9" fill="none" stroke="#7a20e0" stroke-width="0.8" stroke-linejoin="round" stroke-dasharray="4 9"/>
<polyline points="36.3,86.3 45,87.5 59,88.8 80,89.6 110,90.2 150,90.9 175,91.3 198,91.5" fill="none" stroke="#ff4a90" stroke-width="0.9" stroke-linejoin="round" stroke-dasharray="3 10" stroke-dashoffset="-5"/>
<line x1="187.6" y1="60.16" x2="187.6" y2="91.41" stroke="#ffa530" stroke-width="0.9"/>
<line x1="232" y1="66.58" x2="232" y2="93" stroke="#ff60b8" stroke-width="1"/>
<line x1="247.6" y1="68.83" x2="247.6" y2="93" stroke="#3838f0" stroke-width="0.9"/>
<line x1="309.6" y1="77.79" x2="309.6" y2="82.05" stroke="#ff3ab0" stroke-width="0.9"/>
<line x1="321" y1="79.44" x2="321" y2="89.42" stroke="#3838f0" stroke-width="0.9"/>
<circle cx="187.6" cy="60.16" r="1.0" fill="#111"/>
<circle cx="232" cy="66.58" r="1.0" fill="#111"/>
<circle cx="247.6" cy="68.83" r="1.0" fill="#111"/>
<circle cx="266.2" cy="71.52" r="1.0" fill="#111"/>
<circle cx="309.6" cy="77.79" r="1.0" fill="#111"/>
<circle cx="321" cy="79.44" r="1.0" fill="#111"/>
</g>
<rect x="55.7" y="60.3" width="196.6" height="32.5" rx="3.2" ry="3.2" fill="none" stroke="#4a4a4a" stroke-width="0.9"/>
<text x="58.7" y="68.9" font-size="10.1" fill="#3535f0" class="s">Ch 01: 1</text>
<text x="58.7" y="79.5" font-size="10.1" fill="#ffa530" class="s">Ch 02: 2</text>
<text x="58.7" y="90.2" font-size="10.1" fill="#ff3ab0" class="s">Ch 03: 3</text>
<rect x="406.6" y="41.3" width="4" height="4" fill="#111"/>
<text x="413" y="46.5" font-size="7.9" fill="#222" class="s" textLength="12" lengthAdjust="spacingAndGlyphs">Sys</text>
<circle cx="408.5" cy="53.7" r="2.1" fill="#111"/>
<g clip-path="url(#cp)">
<text x="413" y="56.7" font-size="7.9" fill="#222" class="s" textLength="15.2" lengthAdjust="spacingAndGlyphs">Dias</text>
</g>
<defs>
<linearGradient id="gs" x1="0" y1="0" x2="1" y2="1"><stop offset="0" stop-color="#7a7ae8"/><stop offset="1" stop-color="#2a2a98"/></linearGradient>
<linearGradient id="gp" x1="0" y1="0" x2="1" y2="1"><stop offset="0" stop-color="#dfeaff"/><stop offset="1" stop-color="#4a7ad0"/></linearGradient>
<linearGradient id="gc" x1="0" y1="0" x2="0" y2="1"><stop offset="0" stop-color="#9aa8c0"/><stop offset="1" stop-color="#5a6a88"/></linearGradient>
</defs>
<g><rect x="365.1" y="19.1" width="8.8" height="8.6" rx="0.9" fill="url(#gs)"/><rect x="367.2" y="19.7" width="4.9" height="3.3" fill="#eef0ff"/><rect x="367.6" y="24.6" width="4.2" height="3.0" fill="#1a1a60"/><rect x="368.9" y="25.1" width="1.7" height="2.0" fill="#e8e8f8"/></g>
<line x1="378.4" y1="17.2" x2="378.4" y2="30.3" stroke="#a4a4a8" stroke-width="0.9"/>
<g><rect x="382.9" y="20.1" width="9.1" height="6.7" rx="0.9" fill="url(#gc)"/><rect x="384.0" y="21.2" width="6.9" height="4.5" fill="#6a7890"/><path d="M384.6 21.8 L388.6 23.5 L384.6 25.2 Z" fill="#e8eef8"/><rect x="388.8" y="22.6" width="1.8" height="1.8" fill="#2a5ae0"/></g>
<g><rect x="396.8" y="19.3" width="4.9" height="5.4" rx="0.5" fill="#b4c8ee" stroke="#7a96d0" stroke-width="0.5"/><rect x="400.4" y="21.5" width="6.3" height="6.0" rx="0.6" fill="url(#gp)" stroke="#3a6ac0" stroke-width="0.6"/></g>
<line x1="411.2" y1="17.2" x2="411.2" y2="30.3" stroke="#a4a4a8" stroke-width="0.9"/>
<g><rect x="415.2" y="18.5" width="7.0" height="6.6" rx="0.5" fill="#c4d0e4" stroke="#8a98b4" stroke-width="0.5"/><rect x="420.2" y="19.6" width="1.7" height="2.0" fill="#f09a6a"/><rect x="416.0" y="19.2" width="1.5" height="1.5" fill="#6a7488"/><rect x="418.8" y="22.4" width="6.4" height="6.3" rx="0.5" fill="url(#gp)" stroke="#3a62b0" stroke-width="0.6"/><rect x="422.6" y="23.2" width="2.0" height="2.0" fill="#f08a3a"/></g>
<text x="15.4" y="150.6" font-size="13.05" fill="#2020c8" class="r">Ch 01: NP</text>
<text x="15.4" y="166.4" font-size="13.05" fill="#ff9a20" class="r">Ch 02: PE</text>
<text x="15.4" y="182.4" font-size="13.05" fill="#fa18e6" class="r">Ch 03: PE+taVNS</text>
<!-- panel C -->
<text x="12.8" y="215.8" font-size="6.4" class="s"><tspan fill="#222">RT: </tspan><tspan fill="#1a1aa0">0.00 - 5.00</tspan></text>
<line x1="37.6" y1="224.7" x2="37.6" y2="365" stroke="#222" stroke-width="0.7"/>
<line x1="37.6" y1="364.9" x2="661.6" y2="364.9" stroke="#222" stroke-width="0.8"/>
<line x1="33" y1="364.7" x2="37.6" y2="364.7" stroke="#222" stroke-width="0.6"/>
<text x="33.1" y="366.8" font-size="5.9" text-anchor="end" fill="#222" class="s">0</text>
<line x1="33" y1="350.73" x2="37.6" y2="350.73" stroke="#222" stroke-width="0.6"/>
<text x="33.1" y="352.83" font-size="5.9" text-anchor="end" fill="#222" class="s">10</text>
<line x1="33" y1="336.76" x2="37.6" y2="336.76" stroke="#222" stroke-width="0.6"/>
<text x="33.1" y="338.86" font-size="5.9" text-anchor="end" fill="#222" class="s">20</text>
<line x1="33" y1="322.79" x2="37.6" y2="322.79" stroke="#222" stroke-width="0.6"/>
<text x="33.1" y="324.89" font-size="5.9" text-anchor="end" fill="#222" class="s">30</text>
<line x1="33" y1="308.82" x2="37.6" y2="308.82" stroke="#222" stroke-width="0.6"/>
<text x="33.1" y="310.92" font-size="5.9" text-anchor="end" fill="#222" class="s">40</text>
<line x1="33" y1="294.85" x2="37.6" y2="294.85" stroke="#222" stroke-width="0.6"/>
<text x="33.1" y="296.95" font-size="5.9" text-anchor="end" fill="#222" class="s">50</text>
<line x1="33" y1="280.88" x2="37.6" y2="280.88" stroke="#222" stroke-width="0.6"/>
<text x="33.1" y="282.98" font-size="5.9" text-anchor="end" fill="#222" class="s">60</text>
<line x1="33" y1="266.91" x2="37.6" y2="266.91" stroke="#222" stroke-width="0.6"/>
<text x="33.1" y="269.01" font-size="5.9" text-anchor="end" fill="#222" class="s">70</text>
<line x1="33" y1="252.94" x2="37.6" y2="252.94" stroke="#222" stroke-width="0.6"/>
<text x="33.1" y="255.04" font-size="5.9" text-anchor="end" fill="#222" class="s">80</text>
<line x1="33" y1="238.97" x2="37.6" y2="238.97" stroke="#222" stroke-width="0.6"/>
<text x="33.1" y="241.07" font-size="5.9" text-anchor="end" fill="#222" class="s">90</text>
<line x1="33" y1="225" x2="37.6" y2="225" stroke="#222" stroke-width="0.6"/>
<text x="33.1" y="227.1" font-size="5.9" text-anchor="end" fill="#222" class="s">100</text>
<line x1="37.6" y1="364.7" x2="37.6" y2="369" stroke="#222" stroke-width="0.6"/>
<text x="37.6" y="374.7" font-size="6.3" text-anchor="middle" fill="#222" class="s">0.0</text>
<line x1="43.84" y1="364.7" x2="43.84" y2="366.9" stroke="#222" stroke-width="0.5"/>
<line x1="50.08" y1="364.7" x2="50.08" y2="366.9" stroke="#222" stroke-width="0.5"/>
<line x1="56.32" y1="364.7" x2="56.32" y2="366.9" stroke="#222" stroke-width="0.5"/>
<line x1="62.56" y1="364.7" x2="62.56" y2="369" stroke="#222" stroke-width="0.6"/>
<text x="62.56" y="374.7" font-size="6.3" text-anchor="middle" fill="#222" class="s">0.2</text>
<line x1="68.8" y1="364.7" x2="68.8" y2="366.9" stroke="#222" stroke-width="0.5"/>
<line x1="75.04" y1="364.7" x2="75.04" y2="366.9" stroke="#222" stroke-width="0.5"/>
<line x1="81.28" y1="364.7" x2="81.28" y2="366.9" stroke="#222" stroke-width="0.5"/>
<line x1="87.52" y1="364.7" x2="87.52" y2="369" stroke="#222" stroke-width="0.6"/>
<text x="87.52" y="374.7" font-size="6.3" text-anchor="middle" fill="#222" class="s">0.4</text>
<line x1="93.76" y1="364.7" x2="93.76" y2="366.9" stroke="#222" stroke-width="0.5"/>
<line x1="100" y1="364.7" x2="100" y2="366.9" stroke="#222" stroke-width="0.5"/>
<line x1="106.24" y1="364.7" x2="106.24" y2="366.9" stroke="#222" stroke-width="0.5"/>
<line x1="112.48" y1="364.7" x2="112.48" y2="369" stroke="#222" stroke-width="0.6"/>
<text x="112.48" y="374.7" font-size="6.3" text-anchor="middle" fill="#222" class="s">0.6</text>
<line x1="118.72" y1="364.7" x2="118.72" y2="366.9" stroke="#222" stroke-width="0.5"/>
<line x1="124.96" y1="364.7" x2="124.96" y2="366.9" stroke="#222" stroke-width="0.5"/>
<line x1="131.2" y1="364.7" x2="131.2" y2="366.9" stroke="#222" stroke-width="0.5"/>
<line x1="137.44" y1="364.7" x2="137.44" y2="369" stroke="#222" stroke-width="0.6"/>
<text x="137.44" y="374.7" font-size="6.3" text-anchor="middle" fill="#222" class="s">0.8</text>
<line x1="143.68" y1="364.7" x2="143.68" y2="366.9" stroke="#222" stroke-width="0.5"/>
<line x1="149.92" y1="364.7" x2="149.92" y2="366.9" stroke="#222" stroke-width="0.5"/>
<line x1="156.16" y1="364.7" x2="156.16" y2="366.9" stroke="#222" stroke-width="0.5"/>
<line x1="162.4" y1="364.7" x2="162.4" y2="369" stroke="#222" stroke-width="0.6"/>
<text x="162.4" y="374.7" font-size="6.3" text-anchor="middle" fill="#222" class="s">1.0</text>
<line x1="168.64" y1="364.7" x2="168.64" y2="366.9" stroke="#222" stroke-width="0.5"/>
<line x1="174.88" y1="364.7" x2="174.88" y2="366.9" stroke="#222" stroke-width="0.5"/>
<line x1="181.12" y1="364.7" x2="181.12" y2="366.9" stroke="#222" stroke-width="0.5"/>
<line x1="187.36" y1="364.7" x2="187.36" y2="369" stroke="#222" stroke-width="0.6"/>
<text x="187.36" y="374.7" font-size="6.3" text-anchor="middle" fill="#222" class="s">1.2</text>
<line x1="193.6" y1="364.7" x2="193.6" y2="366.9" stroke="#222" stroke-width="0.5"/>
<line x1="199.84" y1="364.7" x2="199.84" y2="366.9" stroke="#222" stroke-width="0.5"/>
<line x1="206.08" y1="364.7" x2="206.08" y2="366.9" stroke="#222" stroke-width="0.5"/>
<line x1="212.32" y1="364.7" x2="212.32" y2="369" stroke="#222" stroke-width="0.6"/>
<text x="212.32" y="374.7" font-size="6.3" text-anchor="middle" fill="#222" class="s">1.4</text>
<line x1="218.56" y1="364.7" x2="218.56" y2="366.9" stroke="#222" stroke-width="0.5"/>
<line x1="224.8" y1="364.7" x2="224.8" y2="366.9" stroke="#222" stroke-width="0.5"/>
<line x1="231.04" y1="364.7" x2="231.04" y2="366.9" stroke="#222" stroke-width="0.5"/>
<line x1="237.28" y1="364.7" x2="237.28" y2="369" stroke="#222" stroke-width="0.6"/>
<text x="237.28" y="374.7" font-size="6.3" text-anchor="middle" fill="#222" class="s">1.6</text>
<line x1="243.52" y1="364.7" x2="243.52" y2="366.9" stroke="#222" stroke-width="0.5"/>
<line x1="249.76" y1="364.7" x2="249.76" y2="366.9" stroke="#222" stroke-width="0.5"/>
<line x1="256" y1="364.7" x2="256" y2="366.9" stroke="#222" stroke-width="0.5"/>
<line x1="262.24" y1="364.7" x2="262.24" y2="369" stroke="#222" stroke-width="0.6"/>
<text x="262.24" y="374.7" font-size="6.3" text-anchor="middle" fill="#222" class="s">1.8</text>
<line x1="268.48" y1="364.7" x2="268.48" y2="366.9" stroke="#222" stroke-width="0.5"/>
<line x1="274.72" y1="364.7" x2="274.72" y2="366.9" stroke="#222" stroke-width="0.5"/>
<line x1="280.96" y1="364.7" x2="280.96" y2="366.9" stroke="#222" stroke-width="0.5"/>
<line x1="287.2" y1="364.7" x2="287.2" y2="369" stroke="#222" stroke-width="0.6"/>
<text x="287.2" y="374.7" font-size="6.3" text-anchor="middle" fill="#222" class="s">2.0</text>
<line x1="293.44" y1="364.7" x2="293.44" y2="366.9" stroke="#222" stroke-width="0.5"/>
<line x1="299.68" y1="364.7" x2="299.68" y2="366.9" stroke="#222" stroke-width="0.5"/>
<line x1="305.92" y1="364.7" x2="305.92" y2="366.9" stroke="#222" stroke-width="0.5"/>
<line x1="312.16" y1="364.7" x2="312.16" y2="369" stroke="#222" stroke-width="0.6"/>
<text x="312.16" y="374.7" font-size="6.3" text-anchor="middle" fill="#222" class="s">2.2</text>
<line x1="318.4" y1="364.7" x2="318.4" y2="366.9" stroke="#222" stroke-width="0.5"/>
<line x1="324.64" y1="364.7" x2="324.64" y2="366.9" stroke="#222" stroke-width="0.5"/>
<line x1="330.88" y1="364.7" x2="330.88" y2="366.9" stroke="#222" stroke-width="0.5"/>
<line x1="337.12" y1="364.7" x2="337.12" y2="369" stroke="#222" stroke-width="0.6"/>
<text x="337.12" y="374.7" font-size="6.3" text-anchor="middle" fill="#222" class="s">2.4</text>
<line x1="343.36" y1="364.7" x2="343.36" y2="366.9" stroke="#222" stroke-width="0.5"/>
<line x1="349.6" y1="364.7" x2="349.6" y2="366.9" stroke="#222" stroke-width="0.5"/>
<line x1="355.84" y1="364.7" x2="355.84" y2="366.9" stroke="#222" stroke-width="0.5"/>
<line x1="362.08" y1="364.7" x2="362.08" y2="369" stroke="#222" stroke-width="0.6"/>
<text x="362.08" y="374.7" font-size="6.3" text-anchor="middle" fill="#222" class="s">2.6</text>
<line x1="368.32" y1="364.7" x2="368.32" y2="366.9" stroke="#222" stroke-width="0.5"/>
<line x1="374.56" y1="364.7" x2="374.56" y2="366.9" stroke="#222" stroke-width="0.5"/>
<line x1="380.8" y1="364.7" x2="380.8" y2="366.9" stroke="#222" stroke-width="0.5"/>
<line x1="387.04" y1="364.7" x2="387.04" y2="369" stroke="#222" stroke-width="0.6"/>
<text x="387.04" y="374.7" font-size="6.3" text-anchor="middle" fill="#222" class="s">2.8</text>
<line x1="393.28" y1="364.7" x2="393.28" y2="366.9" stroke="#222" stroke-width="0.5"/>
<line x1="399.52" y1="364.7" x2="399.52" y2="366.9" stroke="#222" stroke-width="0.5"/>
<line x1="405.76" y1="364.7" x2="405.76" y2="366.9" stroke="#222" stroke-width="0.5"/>
<line x1="412" y1="364.7" x2="412" y2="369" stroke="#222" stroke-width="0.6"/>
<text x="412" y="374.7" font-size="6.3" text-anchor="middle" fill="#222" class="s">3.0</text>
<line x1="418.24" y1="364.7" x2="418.24" y2="366.9" stroke="#222" stroke-width="0.5"/>
<line x1="424.48" y1="364.7" x2="424.48" y2="366.9" stroke="#222" stroke-width="0.5"/>
<line x1="430.72" y1="364.7" x2="430.72" y2="366.9" stroke="#222" stroke-width="0.5"/>
<line x1="436.96" y1="364.7" x2="436.96" y2="369" stroke="#222" stroke-width="0.6"/>
<text x="436.96" y="374.7" font-size="6.3" text-anchor="middle" fill="#222" class="s">3.2</text>
<line x1="443.2" y1="364.7" x2="443.2" y2="366.9" stroke="#222" stroke-width="0.5"/>
<line x1="449.44" y1="364.7" x2="449.44" y2="366.9" stroke="#222" stroke-width="0.5"/>
<line x1="455.68" y1="364.7" x2="455.68" y2="366.9" stroke="#222" stroke-width="0.5"/>
<line x1="461.92" y1="364.7" x2="461.92" y2="369" stroke="#222" stroke-width="0.6"/>
<text x="461.92" y="374.7" font-size="6.3" text-anchor="middle" fill="#222" class="s">3.4</text>
<line x1="468.16" y1="364.7" x2="468.16" y2="366.9" stroke="#222" stroke-width="0.5"/>
<line x1="474.4" y1="364.7" x2="474.4" y2="366.9" stroke="#222" stroke-width="0.5"/>
<line x1="480.64" y1="364.7" x2="480.64" y2="366.9" stroke="#222" stroke-width="0.5"/>
<line x1="486.88" y1="364.7" x2="486.88" y2="369" stroke="#222" stroke-width="0.6"/>
<text x="486.88" y="374.7" font-size="6.3" text-anchor="middle" fill="#222" class="s">3.6</text>
<line x1="493.12" y1="364.7" x2="493.12" y2="366.9" stroke="#222" stroke-width="0.5"/>
<line x1="499.36" y1="364.7" x2="499.36" y2="366.9" stroke="#222" stroke-width="0.5"/>
<line x1="505.6" y1="364.7" x2="505.6" y2="366.9" stroke="#222" stroke-width="0.5"/>
<line x1="511.84" y1="364.7" x2="511.84" y2="369" stroke="#222" stroke-width="0.6"/>
<text x="511.84" y="374.7" font-size="6.3" text-anchor="middle" fill="#222" class="s">3.8</text>
<line x1="518.08" y1="364.7" x2="518.08" y2="366.9" stroke="#222" stroke-width="0.5"/>
<line x1="524.32" y1="364.7" x2="524.32" y2="366.9" stroke="#222" stroke-width="0.5"/>
<line x1="530.56" y1="364.7" x2="530.56" y2="366.9" stroke="#222" stroke-width="0.5"/>
<line x1="536.8" y1="364.7" x2="536.8" y2="369" stroke="#222" stroke-width="0.6"/>
<text x="536.8" y="374.7" font-size="6.3" text-anchor="middle" fill="#222" class="s">4.0</text>
<line x1="543.04" y1="364.7" x2="543.04" y2="366.9" stroke="#222" stroke-width="0.5"/>
<line x1="549.28" y1="364.7" x2="549.28" y2="366.9" stroke="#222" stroke-width="0.5"/>
<line x1="555.52" y1="364.7" x2="555.52" y2="366.9" stroke="#222" stroke-width="0.5"/>
<line x1="561.76" y1="364.7" x2="561.76" y2="369" stroke="#222" stroke-width="0.6"/>
<text x="561.76" y="374.7" font-size="6.3" text-anchor="middle" fill="#222" class="s">4.2</text>
<line x1="568" y1="364.7" x2="568" y2="366.9" stroke="#222" stroke-width="0.5"/>
<line x1="574.24" y1="364.7" x2="574.24" y2="366.9" stroke="#222" stroke-width="0.5"/>
<line x1="580.48" y1="364.7" x2="580.48" y2="366.9" stroke="#222" stroke-width="0.5"/>
<line x1="586.72" y1="364.7" x2="586.72" y2="369" stroke="#222" stroke-width="0.6"/>
<text x="586.72" y="374.7" font-size="6.3" text-anchor="middle" fill="#222" class="s">4.4</text>
<line x1="592.96" y1="364.7" x2="592.96" y2="366.9" stroke="#222" stroke-width="0.5"/>
<line x1="599.2" y1="364.7" x2="599.2" y2="366.9" stroke="#222" stroke-width="0.5"/>
<line x1="605.44" y1="364.7" x2="605.44" y2="366.9" stroke="#222" stroke-width="0.5"/>
<line x1="611.68" y1="364.7" x2="611.68" y2="369" stroke="#222" stroke-width="0.6"/>
<text x="611.68" y="374.7" font-size="6.3" text-anchor="middle" fill="#222" class="s">4.6</text>
<line x1="617.92" y1="364.7" x2="617.92" y2="366.9" stroke="#222" stroke-width="0.5"/>
<line x1="624.16" y1="364.7" x2="624.16" y2="366.9" stroke="#222" stroke-width="0.5"/>
<line x1="630.4" y1="364.7" x2="630.4" y2="366.9" stroke="#222" stroke-width="0.5"/>
<line x1="636.64" y1="364.7" x2="636.64" y2="369" stroke="#222" stroke-width="0.6"/>
<text x="636.64" y="374.7" font-size="6.3" text-anchor="middle" fill="#222" class="s">4.8</text>
<line x1="642.88" y1="364.7" x2="642.88" y2="366.9" stroke="#222" stroke-width="0.5"/>
<line x1="649.12" y1="364.7" x2="649.12" y2="366.9" stroke="#222" stroke-width="0.5"/>
<line x1="655.36" y1="364.7" x2="655.36" y2="366.9" stroke="#222" stroke-width="0.5"/>
<text x="20.9" y="295" font-size="6.1" text-anchor="middle" fill="#222" transform="rotate(-90 20.9 295)" class="s">Relative Abundance</text>
<text x="349.4" y="382" font-size="6.4" text-anchor="middle" fill="#222" class="s">Time (min)</text>
<polyline points="37.6,337.74 38.44,318.4 38.99,309.74 39.67,324.47 40.42,314.8 41.13,325.53 41.69,310.92 41.99,324.16 42.59,303.23 43.19,322.32 44.14,322.22 44.84,304.91 45.38,319.56 46.03,313.62 46.6,324.55 47.48,311.31 48.26,319.69 48.86,326.07 49.46,300.44 50.06,323.09 50.82,321.79 51.35,318.73 51.95,294.85 52.55,318.11 53.08,303.8 53.86,317.94 54.47,321.44 55.07,273.89 55.67,323.08 55.99,313.44 56.85,335.34 57.58,339.33 58.75,353.34 59.86,353.13 60.8,360.52 61.92,359.01 62.95,362.73 64.3,360.58 65.46,364.56 66.65,360.1 68.03,362.77 68.95,360.83 70.12,364.65 70.7,363.58 71.3,353.52 71.9,363.55 73.19,363.75 73.79,356.32 74.39,363.73 75.4,361.7 76.43,363.45 76.94,363.92 77.54,348.63 78.14,363.52 79.03,364.1 80.03,361.28 81.34,362.74 82.18,361.88 83.07,364.24 83.18,364.43 83.78,358.41 84.38,364.66 85.03,364.69 86.04,361.72 86.92,364.56 87.52,359.81 88.12,364.32 88.32,361.56 89.46,363.54 90.24,360.86 91.48,363.24 92.73,361.99 93.72,364.53 94.41,364.6 95.01,356.6 95.61,363.91 96.5,362.23 97.28,364.7 98.11,362.72 99.09,364.66 100.39,361.92 101.22,364.34 102.19,362.48 103.01,363.57 103.14,364.27 103.74,360.51 104.34,364.22 105.43,364.6 106.24,362.82 107.15,363.76 108,363.37 108.14,364.31 108.74,361.21 109.34,364.27 110.18,362.88 110.94,364.2 111.88,364.44 112.48,361.63 113.08,364.7 113.49,364.47 114.47,363.52 115.7,364.26 116.94,363.41 117.83,364.05 119.2,362.97 120.45,364.07 121.66,363.6 122.74,364.44 123.5,363.81 124.42,364.52 125.6,363.05 126.63,364.03 128,363.02 128.97,364.54 129.86,363.66 130.73,364.24 132.05,363.07 133.1,364.21 134.35,363.72 135.51,364.01 136.75,363.09 137.8,364.56 138.09,364.33 138.69,353.1 139.29,364.35 140.3,363.93 141.29,363.37 141.83,364.46 142.43,361.21 143.03,364.44 143.49,363.62 144.33,363.96 145.58,364.38 146.18,361.21 146.78,364.67 148.01,363.36 149.1,364.59 149.85,362.72 151.01,364.25 152.35,363.23 153.64,363.98 154.52,363.4 155.45,364.49 156.57,363.29 157.58,364.56 158.9,362.66 159.93,363.88 161.25,362 162.58,363.81 163.66,361.45 164.41,363.9 165.27,362.52 165.54,363.89 166.14,359.81 166.74,364.42 167.57,360.84 168.66,364.08 169.29,364.61 169.89,359.11 170.49,364.39 170.98,364.49 172.08,361.75 172.99,363.15 174.06,360.92 175.29,362.83 176.31,360.82 176.78,363.83 177.38,357.99 177.98,364.46 178.56,361.3 179.64,363.77 180.52,363.86 181.12,359.81 181.72,363.59 182.28,362.93 183.19,361.25 184.53,363.17 185.36,362.29 186.39,364.57 187.28,362.45 188.45,363.31 189.77,362.23 190.96,363.5 191.8,360.61 193.16,364.3 194.51,361.6 195.56,362.84 196.83,362.08 197.85,363.72 198.81,361.96 199.75,363.3 200.51,361.1 201.53,364.66 202.48,360.88 203.55,364.57 204.23,364.11 204.83,350.45 205.43,364.24 206.28,364.49 207.19,362.18 208.43,364.14 209.26,361.2 210.58,362.99 211.49,361.83 212.81,363.4 214,361.48 214.78,362.75 215.79,361.03 217.13,362.42 218.39,360.27 219.68,363.8 220.46,363.15 221.06,351.43 221.66,362.79 221.93,362.35 223.26,359.46 224.08,362.41 224.2,362.62 224.8,353.52 225.4,362.89 225.82,363.85 226.69,359.22 227.63,361.67 228.56,358.48 229.41,362.92 230.17,359.36 230.92,361.71 231.69,362.8 232.29,354.92 232.89,363.86 233.06,361.05 233.87,357.13 234.88,362.42 236.06,363.72 236.66,352.83 237.26,363.52 238.59,359.48 239.86,362.44 241.01,360.49 241.98,364.41 242.8,362.16 244.01,364.27 244.86,362.66 246.14,363.47 247.31,362.79 248.2,364.37 249.24,363.33 250.27,364.48 251.62,363.12 252.71,364.57 254.07,364.14 255.04,364.7 256.02,364.49 257.09,364.68 258.15,364.56 259.06,364.69 260.06,364.55 260.81,364.66 261.71,364.48 262.78,364.61 262.89,364.65 263.49,357.02 264.09,364.68 265.25,364.65 266.2,364.42 267.04,364.62 268.19,364.55 268.6,364.28 269.23,339.55 269.98,306.03 270.73,280.88 271.48,258.53 272.22,241.76 272.97,230.59 273.47,225 273.97,229.19 274.47,241.76 274.97,261.32 275.47,280.88 275.97,300.44 276.47,317.2 276.97,328.38 277.59,333.97 278.21,329.77 278.84,340.95 279.71,337.4 280.24,354.8 280.88,337.49 281.71,350.41 282.35,340.75 283.08,353.56 283.65,338.11 284.26,350.08 285.2,348.17 285.92,351.26 286.87,342.6 287.51,355.95 288.1,352.06 288.7,331.17 289.3,356.19 289.99,335.13 290.57,348.82 291.31,335.55 291.59,354.93 292.19,328.38 292.79,352.4 293.07,341.36 293.6,357.47 294.34,342.72 294.99,356.92 295.66,345.11 295.96,354.76 296.56,339.55 297.16,356.69 297.41,341.49 297.83,359.93 298.43,340.95 299.03,357.97 299.47,358.27 300.17,344.57 300.95,359.79 301.66,352.79 302.2,362.65 303.09,353.64 304.03,361.98 304.67,352.31 305.27,361.39 306.22,349.92 307.1,360.1 308.02,350 308.79,359.86 309.33,351.86 310.05,359.9 310.31,363.21 310.91,346.54 311.51,361.27 311.98,354.37 312.65,362.96 313.43,364.04 314.03,347.24 314.63,363.45 314.79,354.11 315.48,363.75 316.08,356.59 317,361.92 317.62,352.11 318.58,362.23 319.16,356.96 319.72,362.85 320.28,356.75 320.92,361.65 321.83,353.66 322.54,361.85 323.61,353.58 324.04,357.69 324.64,344.44 325.24,360.41 325.49,348.85 326.31,359.26 327.16,361.84 327.76,349.33 328.36,360.58 329.24,355.57 330.26,359.76 331.55,353.59 332.3,364.54 333.5,354.15 334.54,362.05 335.28,357.42 336.62,361.24 337.9,354.97 338.8,364.24 339.64,357.04 340.82,360.67 342.02,356.19 343.25,362.69 344.01,362.67 344.61,347.24 345.21,364.59 345.59,363.65 346.91,355.75 347.85,364.11 348.75,355.63 349.94,364.17 350.73,356.18 351.84,362.88 352.73,355.75 353.47,363.28 354.51,353.75 355.66,360.55 356.71,357.8 357.61,360.19 358.8,357.39 359.56,362.36 360.23,364.6 360.83,348.63 361.43,364.53 361.63,361.57 362.97,357.78 363.73,363.09 364.74,355.05 365.61,360.83 366.82,355.89 367.72,361.97 368.32,349.33 368.92,363.94 369.53,363.58 370.75,356.84 371.46,362.4 372.06,343.05 372.66,361.94 372.96,357.12 373.97,361.21 375.32,357.55 376.31,363.6 376.46,363.66 377.06,352.13 377.66,363.87 378.45,364.4 379.44,353.42 380.75,361.1 382.12,353.58 382.7,361.98 383.3,347.24 383.9,362.95 384.41,354.93 385.18,361.58 386.16,357.02 387.11,363.91 387.86,357.55 388.82,360.21 389.29,357.71 389.91,339.55 390.53,315.81 391.03,322.79 391.41,296.25 391.78,303.23 392.28,290.66 392.78,308.82 393.16,329.77 393.65,311.61 394.15,333.97 394.65,318.6 395.28,339.55 395.78,322.79 396.4,347.94 397.02,328.38 397.65,343.75 398.27,331.17 398.9,346.54 399.52,343.09 400.36,353.96 400.79,354.59 401.39,338.16 401.99,353.91 402.66,336.58 403.19,356.18 403.92,336.67 404.54,354.68 405.14,335.36 405.74,356.45 406.24,350.93 406.41,358.07 407.01,336.06 407.61,354.88 408.55,343.94 409.22,358.44 409.9,344.48 410.45,359.99 411.31,351.41 411.86,361.64 412.62,351.84 413.58,356.5 414.54,352.66 415.1,361.86 415.84,349.49 416.56,361.25 417.02,362.15 417.62,331.87 418.22,360.32 418.98,350.42 419.56,357.88 420.21,351.33 420.89,358.59 421.5,353.86 422.13,362.33 423.04,351.49 423.71,360.83 423.88,361.85 424.48,345.84 425.08,360.48 425.29,358.31 426.1,348.74 426.38,362.86 426.98,345.14 427.58,359.73 428.48,363.06 428.87,362.04 429.47,344.44 430.07,363.1 430.52,349.66 431.2,358.19 431.99,362.64 432.59,345.14 433.19,362.23 433.36,354.32 434.49,363.31 435.47,359.62 436.36,364.67 436.96,354.92 437.56,363.85 438.34,364.66 439.29,358.23 440.15,363.71 441.02,358.07 442.11,364.51 442.92,359.79 443.85,363.97 444.45,357.02 445.05,363.49 446,363.52 446.92,360.27 447.59,364.11 448.19,355.62 448.79,364.26 449.37,360.19 450.38,362.31 451.76,360.26 452.63,362.73 453.5,361.48 454.81,363.57 455.08,364.36 455.68,357.71 456.28,363.44 457.38,363.49 458.23,361.54 459.32,363.03 460.65,361.34 461.32,364.36 461.92,350.03 462.52,363.56 462.85,361.19 463.77,363.36 465.1,361.33 466.16,362.65 467.51,361.1 468.18,363.29 468.78,350.03 469.38,363.91 469.7,360.27 470.48,362.38 471.47,359.05 472.6,362.65 473.45,359.44 474.33,363.7 475.61,359.36 476.3,364.13 476.9,358.41 477.5,364.39 478.46,364.4 478.79,364.51 479.39,357.71 479.99,363.58 480.67,364.6 481.77,359.69 482.54,362.7 483.36,360.17 484.45,363.21 485.39,360.71 486.5,363.7 487.53,363.58 488.13,357.3 488.73,363.82 489.82,360.6 490.71,362.94 491.95,360.73 492.81,363.62 493.62,361.65 494.63,364.49 495.66,360.67 496.43,363.28 497.22,360.11 498.46,363.57 498.76,364.09 499.36,359.81 499.96,363.96 500.22,362.62 501.05,359.88 502.42,363.12 503.13,364.41 503.73,357.99 504.33,363.47 505,364.25 505.6,357.44 506.2,363.89 506.41,359.87 507.25,363.04 508.59,362.05 508.74,363.68 509.34,359.81 509.94,363.69 510.4,360.03 511.31,363.02 512.15,361.01 513.48,364.26 514.39,360.88 515.33,364.62 516.19,361.67 517.53,363.18 518.73,364.06 519.33,358.41 519.93,364.3 520.08,364.43 521.16,360.13 522.14,362.63 523.23,360.17 523.72,363.9 524.32,354.5 524.92,364.52 525.91,359.86 526.9,362.69 527.46,363.43 528.06,359.11 528.66,364.16 528.93,363.77 530.15,360.19 531.01,362.72 531.78,358.86 532.69,362.95 533.7,363.27 534.3,356.32 534.9,364.25 535.22,363.81 535.96,361.14 536.8,362.89 537.82,359.16 539.13,364.27 540.02,358.03 540.78,364.69 541.74,359.92 542.44,363.85 543.04,346.26 543.64,364.12 543.83,357.27 544.7,362.17 545.56,363.62 546.16,352.13 546.76,364.23 547.08,363.63 547.92,358.83 549.07,360.64 550.31,356.78 551.22,364.64 552.37,355.7 553.34,361.55 554.3,364.69 554.9,347.94 555.5,362.57 556.89,358.42 557.97,362.63 558.87,358.22 560.11,364.64 561.2,352.56 562.03,363.58 562.41,363.52 563.01,340.67 563.61,363.63 564.23,355.56 564.88,363.73 565.8,351.78 566.63,363.57 567.53,351.31 568.26,358.88 568.98,354.39 569.27,364.28 569.87,364.28 570.47,364.28 570.94,358.38 571.83,349.75 572.39,361.05 572.99,344.44 573.59,360.38 573.94,360.27 574.74,346.53 575.36,355.9 575.89,351.56 576.51,356.49 577.38,359.57 577.98,345.14 578.58,358.68 578.78,350.57 579.71,356.46 580.54,346.03 581.49,357.26 582.39,344.82 583.29,357.12 584.13,345.2 584.79,358.4 585.58,348.98 586.51,357.84 586.74,361.21 587.34,361.21 587.94,361.21 588.56,347.32 589.1,351.48 589.9,339.51 590.75,355.77 591.53,341.71 592.41,348.09 593.33,343.33 594.24,345.51 595.18,340.78 595.79,351.34 596.32,331.16 597.21,345.03 598.09,331.35 598.74,348.76 599.31,328.37 599.92,345.71 600.62,336.14 601.1,343.87 601.7,314.41 602.3,345.7 602.76,337.19 603.5,323.45 604.3,346.14 604.84,339.79 605.44,313.99 606.04,340.27 606.7,324.74 607.32,335.95 607.88,321.96 608.47,346.13 609.08,323.69 609.21,346.52 609.81,321.39 610.41,341.58 610.78,328.49 611.65,345.97 612.39,330.92 613.28,345 614.22,331.51 614.84,340.19 615.45,352.83 616.05,352.83 616.65,352.83 617.32,347.94 617.92,347.94 618.52,347.94 618.8,329.52 619.5,337.66 620.06,323.25 620.59,344.76 621.23,322.96 621.97,342.78 622.31,340.98 622.91,317.2 623.51,341.75 623.61,340.99 624.46,324.5 625.27,342.86 625.94,332.01 626.06,345.66 626.66,304.63 627.3,349.33 627.9,349.33 628.5,349.33 629.18,332.38 629.9,337.19 630.53,331.56 631.18,339.11 632.08,332.02 632.67,343.92 633.33,327.4 633.54,342.56 634.14,320 634.74,346.44 635.37,345.46 636.32,332.69 637.01,336.07 637.88,324.47 638.6,344.03 639.4,332 640.01,341.68 640.55,328.07 641.03,350.03 641.63,350.03 642.23,350.03 642.88,318.6 643.48,339.16 643.68,327.3 644.53,335.18 645.24,324.82 646.09,339.97 646.72,322.63 647.63,335.9 648.46,320.6 649.14,339.34 649.74,313.71 650.34,341.89 650.8,341.96 651.51,320.27 652.26,341.43 652.86,306.03 653.46,341.17 653.7,335.13 654.4,320.32 655.34,339.03 656.01,338.92 656.61,317.2 657.21,335.51 657.8,326.81 658.56,337.82 659.43,314.73 660.18,337.73 660.38,336.26 660.98,307.42 661.58,337.48 661.6,318.6" fill="none" stroke="#262626" stroke-width="0.52" stroke-linejoin="miter" stroke-miterlimit="3"/>
<text x="53.9" y="272.2" font-size="5.9" text-anchor="middle" fill="#222" class="s">0.14</text>
<text x="76.6" y="346.3" font-size="5.9" text-anchor="middle" fill="#222" class="s">0.32</text>
<text x="94.8" y="354.5" font-size="5.9" text-anchor="middle" fill="#222" class="s">0.46</text>
<text x="112.4" y="359.8" font-size="5.9" text-anchor="middle" fill="#222" class="s">0.60</text>
<text x="137.5" y="351.9" font-size="5.9" text-anchor="middle" fill="#222" class="s">0.81</text>
<text x="176.6" y="355" font-size="5.9" text-anchor="middle" fill="#222" class="s">1.12</text>
<text x="204.5" y="348" font-size="5.9" text-anchor="middle" fill="#222" class="s">1.34</text>
<text x="221" y="348.8" font-size="5.9" text-anchor="middle" fill="#222" class="s">1.47</text>
<text x="273.7" y="223.4" font-size="5.9" text-anchor="middle" fill="#222" class="s">1.90</text>
<text x="291.8" y="326.9" font-size="5.9" text-anchor="middle" fill="#222" class="s">2.04</text>
<text x="324.8" y="342.5" font-size="5.9" text-anchor="middle" fill="#222" class="s">2.30</text>
<text x="343.5" y="345.5" font-size="5.9" text-anchor="middle" fill="#222" class="s">2.46</text>
<text x="372.2" y="341.2" font-size="5.9" text-anchor="middle" fill="#222" class="s">2.68</text>
<text x="391.3" y="287.5" font-size="5.9" text-anchor="middle" fill="#222" class="s">2.84</text>
<text x="416.9" y="330.2" font-size="5.9" text-anchor="middle" fill="#222" class="s">3.05</text>
<text x="428.4" y="342.2" font-size="5.9" text-anchor="middle" fill="#222" class="s">3.14</text>
<text x="461.6" y="347.6" font-size="5.9" text-anchor="middle" fill="#222" class="s">3.40</text>
<text x="487.6" y="355" font-size="5.9" text-anchor="middle" fill="#222" class="s">3.61</text>
<text x="504.6" y="355.7" font-size="5.9" text-anchor="middle" fill="#222" class="s">3.75</text>
<text x="524.5" y="352.4" font-size="5.9" text-anchor="middle" fill="#222" class="s">3.90</text>
<text x="542.2" y="344.8" font-size="5.9" text-anchor="middle" fill="#222" class="s">4.05</text>
<text x="562.6" y="338.6" font-size="5.9" text-anchor="middle" fill="#222" class="s">4.21</text>
<text x="604.8" y="311.8" font-size="5.9" text-anchor="middle" fill="#222" class="s">4.55</text>
<text x="625.7" y="302.6" font-size="5.9" text-anchor="middle" fill="#222" class="s">4.72</text>
<text x="652" y="303.9" font-size="5.9" text-anchor="middle" fill="#222" class="s">4.93</text>
<line x1="661.3" y1="218" x2="661.3" y2="223" stroke="#f4b070" stroke-width="0.8"/>
<line x1="661.3" y1="239.5" x2="661.3" y2="244.5" stroke="#f4b070" stroke-width="0.8"/>
<line x1="661.3" y1="232.6" x2="661.3" y2="233.6" stroke="#f6c89a" stroke-width="0.8"/>
<!-- panel D -->
<text x="21.8" y="433.1" font-size="4.5" class="s"><tspan fill="#333">RT: </tspan><tspan fill="#1a1aa0">0.00 - 3.89</tspan><tspan fill="#333">&#160;&#160;SM: </tspan><tspan fill="#1a1aa0">15G</tspan></text>
<line x1="38.9" y1="439.3" x2="38.9" y2="582.2" stroke="#262626" stroke-width="0.6"/>
<line x1="38.9" y1="582" x2="182.05" y2="582" stroke="#262626" stroke-width="0.6"/>
<line x1="35.7" y1="582" x2="38.9" y2="582" stroke="#262626" stroke-width="0.5"/>
<text x="35.3" y="583.6" font-size="4.5" text-anchor="end" fill="#262626" class="s">0</text>
<line x1="37.4" y1="579.15" x2="38.9" y2="579.15" stroke="#262626" stroke-width="0.4"/>
<line x1="37.4" y1="576.3" x2="38.9" y2="576.3" stroke="#262626" stroke-width="0.4"/>
<line x1="37.4" y1="573.45" x2="38.9" y2="573.45" stroke="#262626" stroke-width="0.4"/>
<line x1="37.4" y1="570.6" x2="38.9" y2="570.6" stroke="#262626" stroke-width="0.4"/>
<line x1="35.7" y1="567.75" x2="38.9" y2="567.75" stroke="#262626" stroke-width="0.5"/>
<text x="35.3" y="569.35" font-size="4.5" text-anchor="end" fill="#262626" class="s">10</text>
<line x1="37.4" y1="564.9" x2="38.9" y2="564.9" stroke="#262626" stroke-width="0.4"/>
<line x1="37.4" y1="562.05" x2="38.9" y2="562.05" stroke="#262626" stroke-width="0.4"/>
<line x1="37.4" y1="559.2" x2="38.9" y2="559.2" stroke="#262626" stroke-width="0.4"/>
<line x1="37.4" y1="556.35" x2="38.9" y2="556.35" stroke="#262626" stroke-width="0.4"/>
<line x1="35.7" y1="553.5" x2="38.9" y2="553.5" stroke="#262626" stroke-width="0.5"/>
<text x="35.3" y="555.1" font-size="4.5" text-anchor="end" fill="#262626" class="s">20</text>
<line x1="37.4" y1="550.65" x2="38.9" y2="550.65" stroke="#262626" stroke-width="0.4"/>
<line x1="37.4" y1="547.8" x2="38.9" y2="547.8" stroke="#262626" stroke-width="0.4"/>
<line x1="37.4" y1="544.95" x2="38.9" y2="544.95" stroke="#262626" stroke-width="0.4"/>
<line x1="37.4" y1="542.1" x2="38.9" y2="542.1" stroke="#262626" stroke-width="0.4"/>
<line x1="35.7" y1="539.25" x2="38.9" y2="539.25" stroke="#262626" stroke-width="0.5"/>
<text x="35.3" y="540.85" font-size="4.5" text-anchor="end" fill="#262626" class="s">30</text>
<line x1="37.4" y1="536.4" x2="38.9" y2="536.4" stroke="#262626" stroke-width="0.4"/>
<line x1="37.4" y1="533.55" x2="38.9" y2="533.55" stroke="#262626" stroke-width="0.4"/>
<line x1="37.4" y1="530.7" x2="38.9" y2="530.7" stroke="#262626" stroke-width="0.4"/>
<line x1="37.4" y1="527.85" x2="38.9" y2="527.85" stroke="#262626" stroke-width="0.4"/>
<line x1="35.7" y1="525" x2="38.9" y2="525" stroke="#262626" stroke-width="0.5"/>
<text x="35.3" y="526.6" font-size="4.5" text-anchor="end" fill="#262626" class="s">40</text>
<line x1="37.4" y1="522.15" x2="38.9" y2="522.15" stroke="#262626" stroke-width="0.4"/>
<line x1="37.4" y1="519.3" x2="38.9" y2="519.3" stroke="#262626" stroke-width="0.4"/>
<line x1="37.4" y1="516.45" x2="38.9" y2="516.45" stroke="#262626" stroke-width="0.4"/>
<line x1="37.4" y1="513.6" x2="38.9" y2="513.6" stroke="#262626" stroke-width="0.4"/>
<line x1="35.7" y1="510.75" x2="38.9" y2="510.75" stroke="#262626" stroke-width="0.5"/>
<text x="35.3" y="512.35" font-size="4.5" text-anchor="end" fill="#262626" class="s">50</text>
<line x1="37.4" y1="507.9" x2="38.9" y2="507.9" stroke="#262626" stroke-width="0.4"/>
<line x1="37.4" y1="505.05" x2="38.9" y2="505.05" stroke="#262626" stroke-width="0.4"/>
<line x1="37.4" y1="502.2" x2="38.9" y2="502.2" stroke="#262626" stroke-width="0.4"/>
<line x1="37.4" y1="499.35" x2="38.9" y2="499.35" stroke="#262626" stroke-width="0.4"/>
<line x1="35.7" y1="496.5" x2="38.9" y2="496.5" stroke="#262626" stroke-width="0.5"/>
<text x="35.3" y="498.1" font-size="4.5" text-anchor="end" fill="#262626" class="s">60</text>
<line x1="37.4" y1="493.65" x2="38.9" y2="493.65" stroke="#262626" stroke-width="0.4"/>
<line x1="37.4" y1="490.8" x2="38.9" y2="490.8" stroke="#262626" stroke-width="0.4"/>
<line x1="37.4" y1="487.95" x2="38.9" y2="487.95" stroke="#262626" stroke-width="0.4"/>
<line x1="37.4" y1="485.1" x2="38.9" y2="485.1" stroke="#262626" stroke-width="0.4"/>
<line x1="35.7" y1="482.25" x2="38.9" y2="482.25" stroke="#262626" stroke-width="0.5"/>
<text x="35.3" y="483.85" font-size="4.5" text-anchor="end" fill="#262626" class="s">70</text>
<line x1="37.4" y1="479.4" x2="38.9" y2="479.4" stroke="#262626" stroke-width="0.4"/>
<line x1="37.4" y1="476.55" x2="38.9" y2="476.55" stroke="#262626" stroke-width="0.4"/>
<line x1="37.4" y1="473.7" x2="38.9" y2="473.7" stroke="#262626" stroke-width="0.4"/>
<line x1="37.4" y1="470.85" x2="38.9" y2="470.85" stroke="#262626" stroke-width="0.4"/>
<line x1="35.7" y1="468" x2="38.9" y2="468" stroke="#262626" stroke-width="0.5"/>
<text x="35.3" y="469.6" font-size="4.5" text-anchor="end" fill="#262626" class="s">80</text>
<line x1="37.4" y1="465.15" x2="38.9" y2="465.15" stroke="#262626" stroke-width="0.4"/>
<line x1="37.4" y1="462.3" x2="38.9" y2="462.3" stroke="#262626" stroke-width="0.4"/>
<line x1="37.4" y1="459.45" x2="38.9" y2="459.45" stroke="#262626" stroke-width="0.4"/>
<line x1="37.4" y1="456.6" x2="38.9" y2="456.6" stroke="#262626" stroke-width="0.4"/>
<line x1="35.7" y1="453.75" x2="38.9" y2="453.75" stroke="#262626" stroke-width="0.5"/>
<text x="35.3" y="455.35" font-size="4.5" text-anchor="end" fill="#262626" class="s">90</text>
<line x1="37.4" y1="450.9" x2="38.9" y2="450.9" stroke="#262626" stroke-width="0.4"/>
<line x1="37.4" y1="448.05" x2="38.9" y2="448.05" stroke="#262626" stroke-width="0.4"/>
<line x1="37.4" y1="445.2" x2="38.9" y2="445.2" stroke="#262626" stroke-width="0.4"/>
<line x1="37.4" y1="442.35" x2="38.9" y2="442.35" stroke="#262626" stroke-width="0.4"/>
<line x1="35.7" y1="439.5" x2="38.9" y2="439.5" stroke="#262626" stroke-width="0.5"/>
<text x="35.3" y="441.1" font-size="4.5" text-anchor="end" fill="#262626" class="s">100</text>
<line x1="38.9" y1="582" x2="38.9" y2="583.3" stroke="#262626" stroke-width="0.4"/>
<line x1="42.58" y1="582" x2="42.58" y2="583.3" stroke="#262626" stroke-width="0.4"/>
<line x1="46.26" y1="582" x2="46.26" y2="583.3" stroke="#262626" stroke-width="0.4"/>
<line x1="49.94" y1="582" x2="49.94" y2="583.3" stroke="#262626" stroke-width="0.4"/>
<line x1="53.62" y1="582" x2="53.62" y2="583.3" stroke="#262626" stroke-width="0.4"/>
<line x1="57.3" y1="582" x2="57.3" y2="584.6" stroke="#262626" stroke-width="0.5"/>
<text x="57.3" y="588.9" font-size="4.5" text-anchor="middle" fill="#262626" class="s">0.5</text>
<line x1="60.98" y1="582" x2="60.98" y2="583.3" stroke="#262626" stroke-width="0.4"/>
<line x1="64.66" y1="582" x2="64.66" y2="583.3" stroke="#262626" stroke-width="0.4"/>
<line x1="68.34" y1="582" x2="68.34" y2="583.3" stroke="#262626" stroke-width="0.4"/>
<line x1="72.02" y1="582" x2="72.02" y2="583.3" stroke="#262626" stroke-width="0.4"/>
<line x1="75.7" y1="582" x2="75.7" y2="584.6" stroke="#262626" stroke-width="0.5"/>
<text x="75.7" y="588.9" font-size="4.5" text-anchor="middle" fill="#262626" class="s">1.0</text>
<line x1="79.38" y1="582" x2="79.38" y2="583.3" stroke="#262626" stroke-width="0.4"/>
<line x1="83.06" y1="582" x2="83.06" y2="583.3" stroke="#262626" stroke-width="0.4"/>
<line x1="86.74" y1="582" x2="86.74" y2="583.3" stroke="#262626" stroke-width="0.4"/>
<line x1="90.42" y1="582" x2="90.42" y2="583.3" stroke="#262626" stroke-width="0.4"/>
<line x1="94.1" y1="582" x2="94.1" y2="584.6" stroke="#262626" stroke-width="0.5"/>
<text x="94.1" y="588.9" font-size="4.5" text-anchor="middle" fill="#262626" class="s">1.5</text>
<line x1="97.78" y1="582" x2="97.78" y2="583.3" stroke="#262626" stroke-width="0.4"/>
<line x1="101.46" y1="582" x2="101.46" y2="583.3" stroke="#262626" stroke-width="0.4"/>
<line x1="105.14" y1="582" x2="105.14" y2="583.3" stroke="#262626" stroke-width="0.4"/>
<line x1="108.82" y1="582" x2="108.82" y2="583.3" stroke="#262626" stroke-width="0.4"/>
<line x1="112.5" y1="582" x2="112.5" y2="584.6" stroke="#262626" stroke-width="0.5"/>
<text x="112.5" y="588.9" font-size="4.5" text-anchor="middle" fill="#262626" class="s">2.0</text>
<line x1="116.18" y1="582" x2="116.18" y2="583.3" stroke="#262626" stroke-width="0.4"/>
<line x1="119.86" y1="582" x2="119.86" y2="583.3" stroke="#262626" stroke-width="0.4"/>
<line x1="123.54" y1="582" x2="123.54" y2="583.3" stroke="#262626" stroke-width="0.4"/>
<line x1="127.22" y1="582" x2="127.22" y2="583.3" stroke="#262626" stroke-width="0.4"/>
<line x1="130.9" y1="582" x2="130.9" y2="584.6" stroke="#262626" stroke-width="0.5"/>
<text x="130.9" y="588.9" font-size="4.5" text-anchor="middle" fill="#262626" class="s">2.5</text>
<line x1="134.58" y1="582" x2="134.58" y2="583.3" stroke="#262626" stroke-width="0.4"/>
<line x1="138.26" y1="582" x2="138.26" y2="583.3" stroke="#262626" stroke-width="0.4"/>
<line x1="141.94" y1="582" x2="141.94" y2="583.3" stroke="#262626" stroke-width="0.4"/>
<line x1="145.62" y1="582" x2="145.62" y2="583.3" stroke="#262626" stroke-width="0.4"/>
<line x1="149.3" y1="582" x2="149.3" y2="584.6" stroke="#262626" stroke-width="0.5"/>
<text x="149.3" y="588.9" font-size="4.5" text-anchor="middle" fill="#262626" class="s">3.0</text>
<line x1="152.98" y1="582" x2="152.98" y2="583.3" stroke="#262626" stroke-width="0.4"/>
<line x1="156.66" y1="582" x2="156.66" y2="583.3" stroke="#262626" stroke-width="0.4"/>
<line x1="160.34" y1="582" x2="160.34" y2="583.3" stroke="#262626" stroke-width="0.4"/>
<line x1="164.02" y1="582" x2="164.02" y2="583.3" stroke="#262626" stroke-width="0.4"/>
<line x1="167.7" y1="582" x2="167.7" y2="584.6" stroke="#262626" stroke-width="0.5"/>
<text x="167.7" y="588.9" font-size="4.5" text-anchor="middle" fill="#262626" class="s">3.5</text>
<line x1="171.38" y1="582" x2="171.38" y2="583.3" stroke="#262626" stroke-width="0.4"/>
<line x1="175.06" y1="582" x2="175.06" y2="583.3" stroke="#262626" stroke-width="0.4"/>
<line x1="178.74" y1="582" x2="178.74" y2="583.3" stroke="#262626" stroke-width="0.4"/>
<text x="26" y="511" font-size="4.4" text-anchor="middle" fill="#262626" transform="rotate(-90 26 511)" class="s">Relative Abundance</text>
<text x="110.6" y="594.7" font-size="4.5" text-anchor="middle" fill="#262626" class="s">Time (min)</text>
<path d="M105.88,581.14 L105.88,580.29 L106.8,577.73 L107.35,539.25 L107.9,468 L108.27,442.35 L108.45,439.5 L108.71,453.75 L109.19,493.65 L109.74,527.85 L110.29,550.65 L110.84,563.48 L111.4,569.17 L111.95,570.6 L111.95,580.29 Z" fill="#c2c2c2" stroke="none"/>
<polyline points="38.9,523.58 39.64,522.15 40.74,522.86 41.48,519.3 42.58,517.16 43.32,515.02 43.87,511.46 44.42,516.45 44.97,539.25 45.52,564.9 46.08,577.73 46.63,580.58 48.1,580.29 49.57,578.87 51.04,578.58 52.88,579.72 54.72,580.15 57.3,580.58 59.14,580 60.98,580.86 63.19,580.29 65.4,581 67.6,580.15 68.71,579.72 70.18,580.72 72.76,580.43 75.7,580.86 78.28,580.29 80.12,579.86 81.22,579.43 83.06,580.58 85.64,580.15 87.84,580.72 90.42,579.86 91.89,577.73 93,575.87 93.73,575.45 94.84,577.44 95.94,576.3 97.04,578.87 98.52,580.29 101.46,580.86 104.4,580.72 105.88,580.29 106.8,577.73 107.35,539.25 107.9,468 108.27,442.35 108.45,439.5 108.71,453.75 109.19,493.65 109.74,527.85 110.29,550.65 110.84,563.48 111.4,569.17 111.95,570.6 112.5,569.17 113.24,562.05 113.97,555.64 114.71,562.05 115.44,567.04 116.55,570.6 118.02,574.16 119.49,577.01 120.6,577.44 121.33,574.59 122.07,577.44 122.8,577.01 123.54,572.02 124.28,566.89 125.01,572.74 126.12,576.87 127.59,577.73 129.06,576.01 130.53,574.02 131.64,575.45 132.74,574.59 133.84,576.59 135.32,577.3 136.79,576.44 138.26,577.15 140.1,577.73 141.57,577.44 142.12,570.6 142.49,539.25 142.86,512.17 143.12,506.48 143.41,510.75 143.96,522.15 144.52,533.55 145.25,544.95 145.99,553.5 146.54,559.91 147.09,557.06 147.64,557.77 148.38,564.9 149.12,569.17 149.67,567.04 150.4,564.9 151.14,569.17 152.24,572.02 152.98,573.16 153.9,570.6 154.82,569.46 155.56,573.45 156.66,576.59 158.5,578.87 160.34,580 162.55,579.43 164.02,578.29 165.12,579.15 166.23,577.58 167.7,578.87 169.17,578.15 170.64,579.72 172.85,580.58 175.06,580.86 177.27,580.29 179.48,580 180.95,579.15 182.05,578.87" fill="none" stroke="#2a2a2a" stroke-width="0.55" stroke-linejoin="round"/>
<circle cx="105.88" cy="580.86" r="1.4" fill="none" stroke="#2a2ae0" stroke-width="0.5"/>
<circle cx="112.13" cy="579.43" r="1.6" fill="none" stroke="#2a2ae0" stroke-width="0.5"/>
<line x1="112.13" y1="579.43" x2="112.13" y2="570.6" stroke="#2a2ae0" stroke-width="0.5"/>
<line x1="105.88" y1="580.86" x2="112.13" y2="579.43" stroke="#2a2ae0" stroke-width="0.4"/>
<text x="108.6" y="438.3" font-size="4.5" text-anchor="middle" fill="#262626" class="s">RT: 1.89</text>
<text x="143.4" y="504.2" font-size="4.5" text-anchor="middle" fill="#262626" class="s">2.83</text>
<text x="67.8" y="578" font-size="4.5" text-anchor="middle" fill="#262626" class="s">0.81</text>
<text x="81.2" y="578" font-size="4.5" text-anchor="middle" fill="#262626" class="s">1.15</text>
<text x="94.1" y="574.4" font-size="4.5" text-anchor="middle" fill="#262626" class="s">1.49</text>
<text x="124.3" y="567.8" font-size="4.5" text-anchor="middle" fill="#262626" class="s">2.32</text>
<text x="166.3" y="576.2" font-size="4.5" text-anchor="middle" fill="#262626" class="s">3.46</text>
<text x="182.1" y="437.6" font-size="4.45" fill="#262626" class="s">NL: 9.43E3</text>
<text x="182.1" y="444" font-size="4.45" fill="#262626" class="s">m/z= 86.71-87.71 F: + c</text>
<text x="182.1" y="449" font-size="4.45" fill="#262626" class="s">ESI SRM ms2 146.000</text>
<text x="182.1" y="454" font-size="4.45" fill="#262626" class="s">[43.526-43.528,</text>
<text x="182.1" y="459.1" font-size="4.45" fill="#262626" class="s">87.214-87.216]&#160;&#160;MS</text>
<text x="182.1" y="464" font-size="4.45" fill="#262626" class="s">ICIS P-M-1h-7</text>
<!-- panel E -->
<text x="246.4" y="430.3" font-size="4.45" class="s" textLength="91.6" lengthAdjust="spacing"><tspan fill="#1a1aa0">P-M-1h-7 #602</tspan><tspan fill="#333">&#160;&#160;RT: </tspan><tspan fill="#1a1aa0">1.89</tspan><tspan fill="#333">&#160;&#160;AV: </tspan><tspan fill="#1a1aa0">1</tspan><tspan fill="#333">&#160;&#160;NL: </tspan><tspan fill="#1a1aa0">1.04E4</tspan></text>
<text x="246.4" y="435.1" font-size="4.45" class="s"><tspan fill="#333">F: </tspan><tspan fill="#c01818">+ c ESI SRM ms2 146.000 [43.526-43.528, 87.214-87.216]</tspan></text>
<line x1="264.1" y1="442.5" x2="264.1" y2="582.6" stroke="#262626" stroke-width="0.6"/>
<line x1="260.7" y1="582.4" x2="264.1" y2="582.4" stroke="#262626" stroke-width="0.5"/>
<text x="260.3" y="584" font-size="4.5" text-anchor="end" fill="#262626" class="s">0</text>
<line x1="262.5" y1="579.61" x2="264.1" y2="579.61" stroke="#262626" stroke-width="0.4"/>
<line x1="262.5" y1="576.81" x2="264.1" y2="576.81" stroke="#262626" stroke-width="0.4"/>
<line x1="262.5" y1="574.02" x2="264.1" y2="574.02" stroke="#262626" stroke-width="0.4"/>
<line x1="262.5" y1="571.22" x2="264.1" y2="571.22" stroke="#262626" stroke-width="0.4"/>
<line x1="260.7" y1="568.43" x2="264.1" y2="568.43" stroke="#262626" stroke-width="0.5"/>
<text x="260.3" y="570.03" font-size="4.5" text-anchor="end" fill="#262626" class="s">10</text>
<line x1="262.5" y1="565.64" x2="264.1" y2="565.64" stroke="#262626" stroke-width="0.4"/>
<line x1="262.5" y1="562.84" x2="264.1" y2="562.84" stroke="#262626" stroke-width="0.4"/>
<line x1="262.5" y1="560.05" x2="264.1" y2="560.05" stroke="#262626" stroke-width="0.4"/>
<line x1="262.5" y1="557.25" x2="264.1" y2="557.25" stroke="#262626" stroke-width="0.4"/>
<line x1="260.7" y1="554.46" x2="264.1" y2="554.46" stroke="#262626" stroke-width="0.5"/>
<text x="260.3" y="556.06" font-size="4.5" text-anchor="end" fill="#262626" class="s">20</text>
<line x1="262.5" y1="551.67" x2="264.1" y2="551.67" stroke="#262626" stroke-width="0.4"/>
<line x1="262.5" y1="548.87" x2="264.1" y2="548.87" stroke="#262626" stroke-width="0.4"/>
<line x1="262.5" y1="546.08" x2="264.1" y2="546.08" stroke="#262626" stroke-width="0.4"/>
<line x1="262.5" y1="543.28" x2="264.1" y2="543.28" stroke="#262626" stroke-width="0.4"/>
<line x1="260.7" y1="540.49" x2="264.1" y2="540.49" stroke="#262626" stroke-width="0.5"/>
<text x="260.3" y="542.09" font-size="4.5" text-anchor="end" fill="#262626" class="s">30</text>
<line x1="262.5" y1="537.7" x2="264.1" y2="537.7" stroke="#262626" stroke-width="0.4"/>
<line x1="262.5" y1="534.9" x2="264.1" y2="534.9" stroke="#262626" stroke-width="0.4"/>
<line x1="262.5" y1="532.11" x2="264.1" y2="532.11" stroke="#262626" stroke-width="0.4"/>
<line x1="262.5" y1="529.31" x2="264.1" y2="529.31" stroke="#262626" stroke-width="0.4"/>
<line x1="260.7" y1="526.52" x2="264.1" y2="526.52" stroke="#262626" stroke-width="0.5"/>
<text x="260.3" y="528.12" font-size="4.5" text-anchor="end" fill="#262626" class="s">40</text>
<line x1="262.5" y1="523.73" x2="264.1" y2="523.73" stroke="#262626" stroke-width="0.4"/>
<line x1="262.5" y1="520.93" x2="264.1" y2="520.93" stroke="#262626" stroke-width="0.4"/>
<line x1="262.5" y1="518.14" x2="264.1" y2="518.14" stroke="#262626" stroke-width="0.4"/>
<line x1="262.5" y1="515.34" x2="264.1" y2="515.34" stroke="#262626" stroke-width="0.4"/>
<line x1="260.7" y1="512.55" x2="264.1" y2="512.55" stroke="#262626" stroke-width="0.5"/>
<text x="260.3" y="514.15" font-size="4.5" text-anchor="end" fill="#262626" class="s">50</text>
<line x1="262.5" y1="509.76" x2="264.1" y2="509.76" stroke="#262626" stroke-width="0.4"/>
<line x1="262.5" y1="506.96" x2="264.1" y2="506.96" stroke="#262626" stroke-width="0.4"/>
<line x1="262.5" y1="504.17" x2="264.1" y2="504.17" stroke="#262626" stroke-width="0.4"/>
<line x1="262.5" y1="501.37" x2="264.1" y2="501.37" stroke="#262626" stroke-width="0.4"/>
<line x1="260.7" y1="498.58" x2="264.1" y2="498.58" stroke="#262626" stroke-width="0.5"/>
<text x="260.3" y="500.18" font-size="4.5" text-anchor="end" fill="#262626" class="s">60</text>
<line x1="262.5" y1="495.79" x2="264.1" y2="495.79" stroke="#262626" stroke-width="0.4"/>
<line x1="262.5" y1="492.99" x2="264.1" y2="492.99" stroke="#262626" stroke-width="0.4"/>
<line x1="262.5" y1="490.2" x2="264.1" y2="490.2" stroke="#262626" stroke-width="0.4"/>
<line x1="262.5" y1="487.4" x2="264.1" y2="487.4" stroke="#262626" stroke-width="0.4"/>
<line x1="260.7" y1="484.61" x2="264.1" y2="484.61" stroke="#262626" stroke-width="0.5"/>
<text x="260.3" y="486.21" font-size="4.5" text-anchor="end" fill="#262626" class="s">70</text>
<line x1="262.5" y1="481.82" x2="264.1" y2="481.82" stroke="#262626" stroke-width="0.4"/>
<line x1="262.5" y1="479.02" x2="264.1" y2="479.02" stroke="#262626" stroke-width="0.4"/>
<line x1="262.5" y1="476.23" x2="264.1" y2="476.23" stroke="#262626" stroke-width="0.4"/>
<line x1="262.5" y1="473.43" x2="264.1" y2="473.43" stroke="#262626" stroke-width="0.4"/>
<line x1="260.7" y1="470.64" x2="264.1" y2="470.64" stroke="#262626" stroke-width="0.5"/>
<text x="260.3" y="472.24" font-size="4.5" text-anchor="end" fill="#262626" class="s">80</text>
<line x1="262.5" y1="467.85" x2="264.1" y2="467.85" stroke="#262626" stroke-width="0.4"/>
<line x1="262.5" y1="465.05" x2="264.1" y2="465.05" stroke="#262626" stroke-width="0.4"/>
<line x1="262.5" y1="462.26" x2="264.1" y2="462.26" stroke="#262626" stroke-width="0.4"/>
<line x1="262.5" y1="459.46" x2="264.1" y2="459.46" stroke="#262626" stroke-width="0.4"/>
<line x1="260.7" y1="456.67" x2="264.1" y2="456.67" stroke="#262626" stroke-width="0.5"/>
<text x="260.3" y="458.27" font-size="4.5" text-anchor="end" fill="#262626" class="s">90</text>
<line x1="262.5" y1="453.88" x2="264.1" y2="453.88" stroke="#262626" stroke-width="0.4"/>
<line x1="262.5" y1="451.08" x2="264.1" y2="451.08" stroke="#262626" stroke-width="0.4"/>
<line x1="262.5" y1="448.29" x2="264.1" y2="448.29" stroke="#262626" stroke-width="0.4"/>
<line x1="262.5" y1="445.49" x2="264.1" y2="445.49" stroke="#262626" stroke-width="0.4"/>
<line x1="260.7" y1="442.7" x2="264.1" y2="442.7" stroke="#262626" stroke-width="0.5"/>
<text x="260.3" y="444.3" font-size="4.5" text-anchor="end" fill="#262626" class="s">100</text>
<text x="252.3" y="512.5" font-size="4.4" text-anchor="middle" fill="#262626" transform="rotate(-90 252.3 512.5)" class="s">Relative Abundance</text>
<line x1="260.8" y1="582.4" x2="349.6" y2="582.4" stroke="#262626" stroke-width="0.6"/>
<line x1="262.5" y1="582.4" x2="262.5" y2="583.8" stroke="#262626" stroke-width="0.45"/>
<line x1="271.2" y1="582.4" x2="271.2" y2="583.8" stroke="#262626" stroke-width="0.45"/>
<line x1="279.9" y1="582.4" x2="279.9" y2="583.8" stroke="#262626" stroke-width="0.45"/>
<line x1="288.6" y1="582.4" x2="288.6" y2="583.8" stroke="#262626" stroke-width="0.45"/>
<line x1="297.3" y1="582.4" x2="297.3" y2="583.8" stroke="#262626" stroke-width="0.45"/>
<line x1="306" y1="582.4" x2="306" y2="585" stroke="#262626" stroke-width="0.45"/>
<line x1="314.7" y1="582.4" x2="314.7" y2="583.8" stroke="#262626" stroke-width="0.45"/>
<line x1="323.4" y1="582.4" x2="323.4" y2="583.8" stroke="#262626" stroke-width="0.45"/>
<line x1="332.1" y1="582.4" x2="332.1" y2="583.8" stroke="#262626" stroke-width="0.45"/>
<line x1="340.8" y1="582.4" x2="340.8" y2="583.8" stroke="#262626" stroke-width="0.45"/>
<line x1="349.5" y1="582.4" x2="349.5" y2="583.8" stroke="#262626" stroke-width="0.45"/>
<line x1="306" y1="582.4" x2="306" y2="550.8" stroke="#262626" stroke-width="0.6"/>
<text x="306" y="549.2" font-size="4.5" text-anchor="middle" fill="#262626" class="s">43.53</text>
<text x="306" y="589.4" font-size="4.5" text-anchor="middle" fill="#262626" class="s">43.527</text>
<text x="306" y="595.2" font-size="4.3" text-anchor="middle" fill="#262626" class="s">m/z</text>
<line x1="357.9" y1="582.4" x2="443.9" y2="582.4" stroke="#262626" stroke-width="0.6"/>
<line x1="357.9" y1="579.8" x2="357.9" y2="585" stroke="#262626" stroke-width="0.5"/>
<line x1="366.38" y1="582.4" x2="366.38" y2="583.8" stroke="#262626" stroke-width="0.45"/>
<line x1="374.86" y1="582.4" x2="374.86" y2="583.8" stroke="#262626" stroke-width="0.45"/>
<line x1="383.34" y1="582.4" x2="383.34" y2="583.8" stroke="#262626" stroke-width="0.45"/>
<line x1="391.82" y1="582.4" x2="391.82" y2="583.8" stroke="#262626" stroke-width="0.45"/>
<line x1="400.3" y1="582.4" x2="400.3" y2="585" stroke="#262626" stroke-width="0.45"/>
<line x1="408.78" y1="582.4" x2="408.78" y2="583.8" stroke="#262626" stroke-width="0.45"/>
<line x1="417.26" y1="582.4" x2="417.26" y2="583.8" stroke="#262626" stroke-width="0.45"/>
<line x1="425.74" y1="582.4" x2="425.74" y2="583.8" stroke="#262626" stroke-width="0.45"/>
<line x1="434.22" y1="582.4" x2="434.22" y2="583.8" stroke="#262626" stroke-width="0.45"/>
<line x1="442.7" y1="582.4" x2="442.7" y2="583.8" stroke="#262626" stroke-width="0.45"/>
<line x1="400.3" y1="582.4" x2="400.3" y2="442.3" stroke="#262626" stroke-width="0.6"/>
<text x="400.3" y="441" font-size="4.5" text-anchor="middle" fill="#262626" class="s">87.21</text>
<text x="357.9" y="589.4" font-size="4.5" text-anchor="middle" fill="#262626" class="s">87.214</text>
<text x="400.3" y="589.4" font-size="4.5" text-anchor="middle" fill="#262626" class="s">87.215</text>
<text x="400.3" y="595.2" font-size="4.3" text-anchor="middle" fill="#262626" class="s">m/z</text>
</svg>
</body>
</html>
